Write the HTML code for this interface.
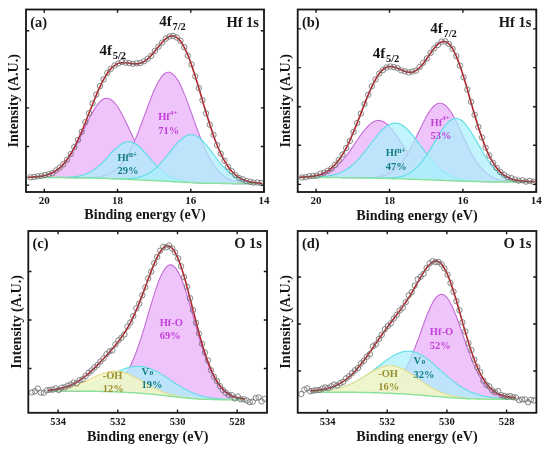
<!DOCTYPE html>
<html><head><meta charset="utf-8"><style>
html,body{margin:0;padding:0;background:#fff;}
svg{display:block;filter:blur(0.3px);}
</style></head><body>
<svg width="550" height="450" viewBox="0 0 550 450">
<rect width="550" height="450" fill="#fff"/>
<polygon points="27.8,177.3 29.2,177.2 30.6,177.2 32.0,177.1 33.3,177.0 34.7,176.9 36.1,176.8 37.5,176.7 38.9,176.5 40.3,176.3 41.7,176.1 43.1,175.8 44.4,175.5 45.8,175.2 47.2,174.8 48.6,174.3 50.0,173.8 51.4,173.2 52.8,172.5 54.2,171.8 55.5,171.0 56.9,170.0 58.3,169.0 59.7,167.9 61.1,166.6 62.5,165.3 63.9,163.8 65.2,162.2 66.6,160.4 68.0,158.5 69.4,156.5 70.8,154.4 72.2,152.2 73.6,149.8 75.0,147.3 76.3,144.7 77.7,142.1 79.1,139.3 80.5,136.5 81.9,133.6 83.3,130.7 84.7,127.8 86.1,124.9 87.4,122.1 88.8,119.3 90.2,116.5 91.6,113.9 93.0,111.4 94.4,109.1 95.8,107.0 97.1,105.0 98.5,103.3 99.9,101.8 101.3,100.5 102.7,99.5 104.1,98.8 105.5,98.4 106.9,98.3 108.2,98.5 109.6,98.9 111.0,99.7 112.4,100.7 113.8,102.0 115.2,103.5 116.6,105.3 118.0,107.3 119.3,109.5 120.7,111.9 122.1,114.5 123.5,117.2 124.9,120.0 126.3,122.9 127.7,125.8 129.0,128.8 130.4,131.8 131.8,134.8 133.2,137.7 134.6,140.6 136.0,143.5 137.4,146.3 138.8,149.0 140.1,151.5 141.5,154.0 142.9,156.4 144.3,158.6 145.7,160.7 147.1,162.7 148.5,164.5 149.9,166.3 151.2,167.8 152.6,169.3 154.0,170.7 155.4,171.9 156.8,173.0 158.2,174.1 159.6,175.0 161.0,175.8 162.3,176.6 163.7,177.3 165.1,177.9 166.5,178.4 167.9,178.9 169.3,179.4 170.7,179.8 172.0,180.1 173.4,180.4 174.8,180.7 176.2,180.9 177.6,181.2 179.0,181.4 180.4,181.5 181.8,181.7 183.1,181.9 184.5,182.0 185.9,182.1 187.3,182.2 188.7,182.3 190.1,182.4 191.5,182.5 192.9,182.6 194.2,182.7 195.6,182.7 197.0,182.8 198.4,182.9 199.8,182.9 201.2,183.0 202.6,183.0 203.9,183.1 205.3,183.1 206.7,183.2 208.1,183.2 209.5,183.3 210.9,183.3 212.3,183.3 213.7,183.3 215.0,183.4 216.4,183.4 217.8,183.4 219.2,183.4 220.6,183.5 222.0,183.5 223.4,183.5 224.8,183.5 226.1,183.5 227.5,183.5 228.9,183.5 230.3,183.5 231.7,183.5 233.1,183.6 234.5,183.6 235.8,183.6 237.2,183.6 238.6,183.6 240.0,183.6 241.4,183.6 242.8,183.6 244.2,183.6 245.6,183.6 246.9,183.6 248.3,183.6 249.7,183.6 251.1,183.6 252.5,183.6 253.9,183.6 255.3,183.6 256.7,183.6 258.0,183.6 259.4,183.6 260.8,183.6 262.2,183.6 262.2,183.6 260.8,183.6 259.4,183.6 258.0,183.6 256.7,183.6 255.3,183.6 253.9,183.6 252.5,183.6 251.1,183.6 249.7,183.6 248.3,183.6 246.9,183.6 245.6,183.6 244.2,183.6 242.8,183.6 241.4,183.6 240.0,183.6 238.6,183.6 237.2,183.6 235.8,183.6 234.5,183.6 233.1,183.6 231.7,183.6 230.3,183.5 228.9,183.5 227.5,183.5 226.1,183.5 224.8,183.5 223.4,183.5 222.0,183.5 220.6,183.5 219.2,183.4 217.8,183.4 216.4,183.4 215.0,183.4 213.7,183.4 212.3,183.3 210.9,183.3 209.5,183.3 208.1,183.2 206.7,183.2 205.3,183.1 203.9,183.1 202.6,183.1 201.2,183.0 199.8,183.0 198.4,182.9 197.0,182.9 195.6,182.8 194.2,182.7 192.9,182.7 191.5,182.6 190.1,182.6 188.7,182.5 187.3,182.4 185.9,182.3 184.5,182.3 183.1,182.2 181.8,182.1 180.4,182.0 179.0,182.0 177.6,181.9 176.2,181.8 174.8,181.7 173.4,181.7 172.0,181.6 170.7,181.5 169.3,181.4 167.9,181.3 166.5,181.3 165.1,181.2 163.7,181.1 162.3,181.0 161.0,181.0 159.6,180.9 158.2,180.8 156.8,180.7 155.4,180.7 154.0,180.6 152.6,180.5 151.2,180.5 149.9,180.4 148.5,180.3 147.1,180.3 145.7,180.2 144.3,180.1 142.9,180.1 141.5,180.0 140.1,180.0 138.8,179.9 137.4,179.8 136.0,179.8 134.6,179.7 133.2,179.6 131.8,179.6 130.4,179.5 129.0,179.5 127.7,179.4 126.3,179.3 124.9,179.3 123.5,179.2 122.1,179.1 120.7,179.1 119.3,179.0 118.0,179.0 116.6,178.9 115.2,178.8 113.8,178.8 112.4,178.7 111.0,178.6 109.6,178.6 108.2,178.5 106.9,178.5 105.5,178.4 104.1,178.4 102.7,178.3 101.3,178.3 99.9,178.2 98.5,178.2 97.1,178.1 95.8,178.1 94.4,178.0 93.0,178.0 91.6,178.0 90.2,177.9 88.8,177.9 87.4,177.8 86.1,177.8 84.7,177.8 83.3,177.8 81.9,177.7 80.5,177.7 79.1,177.7 77.7,177.7 76.3,177.7 75.0,177.6 73.6,177.6 72.2,177.6 70.8,177.6 69.4,177.6 68.0,177.6 66.6,177.6 65.2,177.6 63.9,177.5 62.5,177.5 61.1,177.5 59.7,177.5 58.3,177.5 56.9,177.5 55.5,177.5 54.2,177.5 52.8,177.5 51.4,177.5 50.0,177.5 48.6,177.5 47.2,177.5 45.8,177.5 44.4,177.5 43.1,177.5 41.7,177.5 40.3,177.5 38.9,177.5 37.5,177.5 36.1,177.5 34.7,177.5 33.3,177.5 32.0,177.5 30.6,177.5 29.2,177.5 27.8,177.5" fill="#efc4fb"/>
<polyline points="27.8,177.3 29.2,177.2 30.6,177.2 32.0,177.1 33.3,177.0 34.7,176.9 36.1,176.8 37.5,176.7 38.9,176.5 40.3,176.3 41.7,176.1 43.1,175.8 44.4,175.5 45.8,175.2 47.2,174.8 48.6,174.3 50.0,173.8 51.4,173.2 52.8,172.5 54.2,171.8 55.5,171.0 56.9,170.0 58.3,169.0 59.7,167.9 61.1,166.6 62.5,165.3 63.9,163.8 65.2,162.2 66.6,160.4 68.0,158.5 69.4,156.5 70.8,154.4 72.2,152.2 73.6,149.8 75.0,147.3 76.3,144.7 77.7,142.1 79.1,139.3 80.5,136.5 81.9,133.6 83.3,130.7 84.7,127.8 86.1,124.9 87.4,122.1 88.8,119.3 90.2,116.5 91.6,113.9 93.0,111.4 94.4,109.1 95.8,107.0 97.1,105.0 98.5,103.3 99.9,101.8 101.3,100.5 102.7,99.5 104.1,98.8 105.5,98.4 106.9,98.3 108.2,98.5 109.6,98.9 111.0,99.7 112.4,100.7 113.8,102.0 115.2,103.5 116.6,105.3 118.0,107.3 119.3,109.5 120.7,111.9 122.1,114.5 123.5,117.2 124.9,120.0 126.3,122.9 127.7,125.8 129.0,128.8 130.4,131.8 131.8,134.8 133.2,137.7 134.6,140.6 136.0,143.5 137.4,146.3 138.8,149.0 140.1,151.5 141.5,154.0 142.9,156.4 144.3,158.6 145.7,160.7 147.1,162.7 148.5,164.5 149.9,166.3 151.2,167.8 152.6,169.3 154.0,170.7 155.4,171.9 156.8,173.0 158.2,174.1 159.6,175.0 161.0,175.8 162.3,176.6 163.7,177.3 165.1,177.9 166.5,178.4 167.9,178.9 169.3,179.4 170.7,179.8 172.0,180.1 173.4,180.4 174.8,180.7 176.2,180.9 177.6,181.2 179.0,181.4 180.4,181.5 181.8,181.7 183.1,181.9 184.5,182.0 185.9,182.1 187.3,182.2 188.7,182.3 190.1,182.4 191.5,182.5 192.9,182.6 194.2,182.7 195.6,182.7 197.0,182.8 198.4,182.9 199.8,182.9 201.2,183.0 202.6,183.0 203.9,183.1 205.3,183.1 206.7,183.2 208.1,183.2 209.5,183.3 210.9,183.3 212.3,183.3 213.7,183.3 215.0,183.4 216.4,183.4 217.8,183.4 219.2,183.4 220.6,183.5 222.0,183.5 223.4,183.5 224.8,183.5 226.1,183.5 227.5,183.5 228.9,183.5 230.3,183.5 231.7,183.5 233.1,183.6 234.5,183.6 235.8,183.6 237.2,183.6 238.6,183.6 240.0,183.6 241.4,183.6 242.8,183.6 244.2,183.6 245.6,183.6 246.9,183.6 248.3,183.6 249.7,183.6 251.1,183.6 252.5,183.6 253.9,183.6 255.3,183.6 256.7,183.6 258.0,183.6 259.4,183.6 260.8,183.6 262.2,183.6" fill="none" stroke="#c46cd8" stroke-width="1.1"/>
<polygon points="27.8,177.5 29.2,177.5 30.6,177.5 32.0,177.5 33.3,177.5 34.7,177.5 36.1,177.5 37.5,177.5 38.9,177.5 40.3,177.5 41.7,177.5 43.1,177.5 44.4,177.5 45.8,177.5 47.2,177.5 48.6,177.5 50.0,177.5 51.4,177.5 52.8,177.5 54.2,177.5 55.5,177.5 56.9,177.5 58.3,177.5 59.7,177.5 61.1,177.5 62.5,177.5 63.9,177.5 65.2,177.5 66.6,177.5 68.0,177.6 69.4,177.6 70.8,177.6 72.2,177.6 73.6,177.6 75.0,177.6 76.3,177.6 77.7,177.6 79.1,177.6 80.5,177.6 81.9,177.6 83.3,177.6 84.7,177.6 86.1,177.5 87.4,177.5 88.8,177.5 90.2,177.4 91.6,177.4 93.0,177.3 94.4,177.2 95.8,177.1 97.1,176.9 98.5,176.8 99.9,176.5 101.3,176.3 102.7,176.0 104.1,175.6 105.5,175.2 106.9,174.8 108.2,174.2 109.6,173.6 111.0,172.9 112.4,172.1 113.8,171.2 115.2,170.2 116.6,169.1 118.0,167.8 119.3,166.4 120.7,164.9 122.1,163.2 123.5,161.4 124.9,159.4 126.3,157.2 127.7,154.9 129.0,152.4 130.4,149.8 131.8,147.0 133.2,144.0 134.6,140.9 136.0,137.6 137.4,134.2 138.8,130.7 140.1,127.1 141.5,123.5 142.9,119.7 144.3,115.9 145.7,112.2 147.1,108.4 148.5,104.6 149.9,101.0 151.2,97.4 152.6,94.0 154.0,90.7 155.4,87.6 156.8,84.7 158.2,82.1 159.6,79.7 161.0,77.6 162.3,75.9 163.7,74.5 165.1,73.4 166.5,72.6 167.9,72.3 169.3,72.3 170.7,72.7 172.0,73.4 173.4,74.5 174.8,76.0 176.2,77.8 177.6,79.9 179.0,82.3 180.4,85.0 181.8,87.9 183.1,91.1 184.5,94.4 185.9,97.9 187.3,101.6 188.7,105.4 190.1,109.2 191.5,113.1 192.9,117.0 194.2,120.9 195.6,124.8 197.0,128.6 198.4,132.4 199.8,136.0 201.2,139.6 202.6,143.0 203.9,146.3 205.3,149.4 206.7,152.4 208.1,155.2 209.5,157.8 210.9,160.3 212.3,162.6 213.7,164.8 215.0,166.7 216.4,168.6 217.8,170.2 219.2,171.8 220.6,173.1 222.0,174.4 223.4,175.5 224.8,176.6 226.1,177.5 227.5,178.3 228.9,179.0 230.3,179.6 231.7,180.2 233.1,180.7 234.5,181.1 235.8,181.5 237.2,181.8 238.6,182.1 240.0,182.3 241.4,182.5 242.8,182.7 244.2,182.8 245.6,183.0 246.9,183.1 248.3,183.2 249.7,183.2 251.1,183.3 252.5,183.4 253.9,183.4 255.3,183.4 256.7,183.5 258.0,183.5 259.4,183.5 260.8,183.5 262.2,183.5 262.2,183.6 260.8,183.6 259.4,183.6 258.0,183.6 256.7,183.6 255.3,183.6 253.9,183.6 252.5,183.6 251.1,183.6 249.7,183.6 248.3,183.6 246.9,183.6 245.6,183.6 244.2,183.6 242.8,183.6 241.4,183.6 240.0,183.6 238.6,183.6 237.2,183.6 235.8,183.6 234.5,183.6 233.1,183.6 231.7,183.6 230.3,183.5 228.9,183.5 227.5,183.5 226.1,183.5 224.8,183.5 223.4,183.5 222.0,183.5 220.6,183.5 219.2,183.4 217.8,183.4 216.4,183.4 215.0,183.4 213.7,183.4 212.3,183.3 210.9,183.3 209.5,183.3 208.1,183.2 206.7,183.2 205.3,183.1 203.9,183.1 202.6,183.1 201.2,183.0 199.8,183.0 198.4,182.9 197.0,182.9 195.6,182.8 194.2,182.7 192.9,182.7 191.5,182.6 190.1,182.6 188.7,182.5 187.3,182.4 185.9,182.3 184.5,182.3 183.1,182.2 181.8,182.1 180.4,182.0 179.0,182.0 177.6,181.9 176.2,181.8 174.8,181.7 173.4,181.7 172.0,181.6 170.7,181.5 169.3,181.4 167.9,181.3 166.5,181.3 165.1,181.2 163.7,181.1 162.3,181.0 161.0,181.0 159.6,180.9 158.2,180.8 156.8,180.7 155.4,180.7 154.0,180.6 152.6,180.5 151.2,180.5 149.9,180.4 148.5,180.3 147.1,180.3 145.7,180.2 144.3,180.1 142.9,180.1 141.5,180.0 140.1,180.0 138.8,179.9 137.4,179.8 136.0,179.8 134.6,179.7 133.2,179.6 131.8,179.6 130.4,179.5 129.0,179.5 127.7,179.4 126.3,179.3 124.9,179.3 123.5,179.2 122.1,179.1 120.7,179.1 119.3,179.0 118.0,179.0 116.6,178.9 115.2,178.8 113.8,178.8 112.4,178.7 111.0,178.6 109.6,178.6 108.2,178.5 106.9,178.5 105.5,178.4 104.1,178.4 102.7,178.3 101.3,178.3 99.9,178.2 98.5,178.2 97.1,178.1 95.8,178.1 94.4,178.0 93.0,178.0 91.6,178.0 90.2,177.9 88.8,177.9 87.4,177.8 86.1,177.8 84.7,177.8 83.3,177.8 81.9,177.7 80.5,177.7 79.1,177.7 77.7,177.7 76.3,177.7 75.0,177.6 73.6,177.6 72.2,177.6 70.8,177.6 69.4,177.6 68.0,177.6 66.6,177.6 65.2,177.6 63.9,177.5 62.5,177.5 61.1,177.5 59.7,177.5 58.3,177.5 56.9,177.5 55.5,177.5 54.2,177.5 52.8,177.5 51.4,177.5 50.0,177.5 48.6,177.5 47.2,177.5 45.8,177.5 44.4,177.5 43.1,177.5 41.7,177.5 40.3,177.5 38.9,177.5 37.5,177.5 36.1,177.5 34.7,177.5 33.3,177.5 32.0,177.5 30.6,177.5 29.2,177.5 27.8,177.5" fill="#efc4fb"/>
<polyline points="27.8,177.5 29.2,177.5 30.6,177.5 32.0,177.5 33.3,177.5 34.7,177.5 36.1,177.5 37.5,177.5 38.9,177.5 40.3,177.5 41.7,177.5 43.1,177.5 44.4,177.5 45.8,177.5 47.2,177.5 48.6,177.5 50.0,177.5 51.4,177.5 52.8,177.5 54.2,177.5 55.5,177.5 56.9,177.5 58.3,177.5 59.7,177.5 61.1,177.5 62.5,177.5 63.9,177.5 65.2,177.5 66.6,177.5 68.0,177.6 69.4,177.6 70.8,177.6 72.2,177.6 73.6,177.6 75.0,177.6 76.3,177.6 77.7,177.6 79.1,177.6 80.5,177.6 81.9,177.6 83.3,177.6 84.7,177.6 86.1,177.5 87.4,177.5 88.8,177.5 90.2,177.4 91.6,177.4 93.0,177.3 94.4,177.2 95.8,177.1 97.1,176.9 98.5,176.8 99.9,176.5 101.3,176.3 102.7,176.0 104.1,175.6 105.5,175.2 106.9,174.8 108.2,174.2 109.6,173.6 111.0,172.9 112.4,172.1 113.8,171.2 115.2,170.2 116.6,169.1 118.0,167.8 119.3,166.4 120.7,164.9 122.1,163.2 123.5,161.4 124.9,159.4 126.3,157.2 127.7,154.9 129.0,152.4 130.4,149.8 131.8,147.0 133.2,144.0 134.6,140.9 136.0,137.6 137.4,134.2 138.8,130.7 140.1,127.1 141.5,123.5 142.9,119.7 144.3,115.9 145.7,112.2 147.1,108.4 148.5,104.6 149.9,101.0 151.2,97.4 152.6,94.0 154.0,90.7 155.4,87.6 156.8,84.7 158.2,82.1 159.6,79.7 161.0,77.6 162.3,75.9 163.7,74.5 165.1,73.4 166.5,72.6 167.9,72.3 169.3,72.3 170.7,72.7 172.0,73.4 173.4,74.5 174.8,76.0 176.2,77.8 177.6,79.9 179.0,82.3 180.4,85.0 181.8,87.9 183.1,91.1 184.5,94.4 185.9,97.9 187.3,101.6 188.7,105.4 190.1,109.2 191.5,113.1 192.9,117.0 194.2,120.9 195.6,124.8 197.0,128.6 198.4,132.4 199.8,136.0 201.2,139.6 202.6,143.0 203.9,146.3 205.3,149.4 206.7,152.4 208.1,155.2 209.5,157.8 210.9,160.3 212.3,162.6 213.7,164.8 215.0,166.7 216.4,168.6 217.8,170.2 219.2,171.8 220.6,173.1 222.0,174.4 223.4,175.5 224.8,176.6 226.1,177.5 227.5,178.3 228.9,179.0 230.3,179.6 231.7,180.2 233.1,180.7 234.5,181.1 235.8,181.5 237.2,181.8 238.6,182.1 240.0,182.3 241.4,182.5 242.8,182.7 244.2,182.8 245.6,183.0 246.9,183.1 248.3,183.2 249.7,183.2 251.1,183.3 252.5,183.4 253.9,183.4 255.3,183.4 256.7,183.5 258.0,183.5 259.4,183.5 260.8,183.5 262.2,183.5" fill="none" stroke="#c46cd8" stroke-width="1.1"/>
<polygon points="27.8,177.5 29.2,177.5 30.6,177.5 32.0,177.5 33.3,177.5 34.7,177.5 36.1,177.5 37.5,177.5 38.9,177.5 40.3,177.5 41.7,177.5 43.1,177.5 44.4,177.5 45.8,177.5 47.2,177.5 48.6,177.5 50.0,177.5 51.4,177.5 52.8,177.5 54.2,177.5 55.5,177.5 56.9,177.5 58.3,177.4 59.7,177.4 61.1,177.4 62.5,177.4 63.9,177.3 65.2,177.3 66.6,177.3 68.0,177.2 69.4,177.1 70.8,177.0 72.2,176.9 73.6,176.8 75.0,176.6 76.3,176.4 77.7,176.2 79.1,176.0 80.5,175.7 81.9,175.3 83.3,174.9 84.7,174.5 86.1,174.0 87.4,173.4 88.8,172.8 90.2,172.1 91.6,171.3 93.0,170.4 94.4,169.5 95.8,168.5 97.1,167.4 98.5,166.2 99.9,165.0 101.3,163.7 102.7,162.3 104.1,160.9 105.5,159.5 106.9,158.0 108.2,156.5 109.6,154.9 111.0,153.4 112.4,151.9 113.8,150.5 115.2,149.1 116.6,147.8 118.0,146.6 119.3,145.5 120.7,144.5 122.1,143.6 123.5,142.9 124.9,142.4 126.3,142.0 127.7,141.8 129.0,141.7 130.4,141.9 131.8,142.2 133.2,142.7 134.6,143.4 136.0,144.2 137.4,145.2 138.8,146.3 140.1,147.5 141.5,148.9 142.9,150.3 144.3,151.8 145.7,153.4 147.1,155.0 148.5,156.6 149.9,158.3 151.2,159.9 152.6,161.5 154.0,163.1 155.4,164.6 156.8,166.1 158.2,167.5 159.6,168.9 161.0,170.2 162.3,171.4 163.7,172.5 165.1,173.6 166.5,174.6 167.9,175.5 169.3,176.3 170.7,177.0 172.0,177.7 173.4,178.3 174.8,178.9 176.2,179.4 177.6,179.8 179.0,180.2 180.4,180.6 181.8,180.9 183.1,181.2 184.5,181.4 185.9,181.6 187.3,181.8 188.7,182.0 190.1,182.2 191.5,182.3 192.9,182.4 194.2,182.5 195.6,182.6 197.0,182.7 198.4,182.8 199.8,182.9 201.2,183.0 202.6,183.0 203.9,183.1 205.3,183.1 206.7,183.2 208.1,183.2 209.5,183.2 210.9,183.3 212.3,183.3 213.7,183.3 215.0,183.4 216.4,183.4 217.8,183.4 219.2,183.4 220.6,183.5 222.0,183.5 223.4,183.5 224.8,183.5 226.1,183.5 227.5,183.5 228.9,183.5 230.3,183.5 231.7,183.6 233.1,183.6 234.5,183.6 235.8,183.6 237.2,183.6 238.6,183.6 240.0,183.6 241.4,183.6 242.8,183.6 244.2,183.6 245.6,183.6 246.9,183.6 248.3,183.6 249.7,183.6 251.1,183.6 252.5,183.6 253.9,183.6 255.3,183.6 256.7,183.6 258.0,183.6 259.4,183.6 260.8,183.6 262.2,183.6 262.2,183.6 260.8,183.6 259.4,183.6 258.0,183.6 256.7,183.6 255.3,183.6 253.9,183.6 252.5,183.6 251.1,183.6 249.7,183.6 248.3,183.6 246.9,183.6 245.6,183.6 244.2,183.6 242.8,183.6 241.4,183.6 240.0,183.6 238.6,183.6 237.2,183.6 235.8,183.6 234.5,183.6 233.1,183.6 231.7,183.6 230.3,183.5 228.9,183.5 227.5,183.5 226.1,183.5 224.8,183.5 223.4,183.5 222.0,183.5 220.6,183.5 219.2,183.4 217.8,183.4 216.4,183.4 215.0,183.4 213.7,183.4 212.3,183.3 210.9,183.3 209.5,183.3 208.1,183.2 206.7,183.2 205.3,183.1 203.9,183.1 202.6,183.1 201.2,183.0 199.8,183.0 198.4,182.9 197.0,182.9 195.6,182.8 194.2,182.7 192.9,182.7 191.5,182.6 190.1,182.6 188.7,182.5 187.3,182.4 185.9,182.3 184.5,182.3 183.1,182.2 181.8,182.1 180.4,182.0 179.0,182.0 177.6,181.9 176.2,181.8 174.8,181.7 173.4,181.7 172.0,181.6 170.7,181.5 169.3,181.4 167.9,181.3 166.5,181.3 165.1,181.2 163.7,181.1 162.3,181.0 161.0,181.0 159.6,180.9 158.2,180.8 156.8,180.7 155.4,180.7 154.0,180.6 152.6,180.5 151.2,180.5 149.9,180.4 148.5,180.3 147.1,180.3 145.7,180.2 144.3,180.1 142.9,180.1 141.5,180.0 140.1,180.0 138.8,179.9 137.4,179.8 136.0,179.8 134.6,179.7 133.2,179.6 131.8,179.6 130.4,179.5 129.0,179.5 127.7,179.4 126.3,179.3 124.9,179.3 123.5,179.2 122.1,179.1 120.7,179.1 119.3,179.0 118.0,179.0 116.6,178.9 115.2,178.8 113.8,178.8 112.4,178.7 111.0,178.6 109.6,178.6 108.2,178.5 106.9,178.5 105.5,178.4 104.1,178.4 102.7,178.3 101.3,178.3 99.9,178.2 98.5,178.2 97.1,178.1 95.8,178.1 94.4,178.0 93.0,178.0 91.6,178.0 90.2,177.9 88.8,177.9 87.4,177.8 86.1,177.8 84.7,177.8 83.3,177.8 81.9,177.7 80.5,177.7 79.1,177.7 77.7,177.7 76.3,177.7 75.0,177.6 73.6,177.6 72.2,177.6 70.8,177.6 69.4,177.6 68.0,177.6 66.6,177.6 65.2,177.6 63.9,177.5 62.5,177.5 61.1,177.5 59.7,177.5 58.3,177.5 56.9,177.5 55.5,177.5 54.2,177.5 52.8,177.5 51.4,177.5 50.0,177.5 48.6,177.5 47.2,177.5 45.8,177.5 44.4,177.5 43.1,177.5 41.7,177.5 40.3,177.5 38.9,177.5 37.5,177.5 36.1,177.5 34.7,177.5 33.3,177.5 32.0,177.5 30.6,177.5 29.2,177.5 27.8,177.5" fill="rgba(170,240,252,0.72)"/>
<polyline points="27.8,177.5 29.2,177.5 30.6,177.5 32.0,177.5 33.3,177.5 34.7,177.5 36.1,177.5 37.5,177.5 38.9,177.5 40.3,177.5 41.7,177.5 43.1,177.5 44.4,177.5 45.8,177.5 47.2,177.5 48.6,177.5 50.0,177.5 51.4,177.5 52.8,177.5 54.2,177.5 55.5,177.5 56.9,177.5 58.3,177.4 59.7,177.4 61.1,177.4 62.5,177.4 63.9,177.3 65.2,177.3 66.6,177.3 68.0,177.2 69.4,177.1 70.8,177.0 72.2,176.9 73.6,176.8 75.0,176.6 76.3,176.4 77.7,176.2 79.1,176.0 80.5,175.7 81.9,175.3 83.3,174.9 84.7,174.5 86.1,174.0 87.4,173.4 88.8,172.8 90.2,172.1 91.6,171.3 93.0,170.4 94.4,169.5 95.8,168.5 97.1,167.4 98.5,166.2 99.9,165.0 101.3,163.7 102.7,162.3 104.1,160.9 105.5,159.5 106.9,158.0 108.2,156.5 109.6,154.9 111.0,153.4 112.4,151.9 113.8,150.5 115.2,149.1 116.6,147.8 118.0,146.6 119.3,145.5 120.7,144.5 122.1,143.6 123.5,142.9 124.9,142.4 126.3,142.0 127.7,141.8 129.0,141.7 130.4,141.9 131.8,142.2 133.2,142.7 134.6,143.4 136.0,144.2 137.4,145.2 138.8,146.3 140.1,147.5 141.5,148.9 142.9,150.3 144.3,151.8 145.7,153.4 147.1,155.0 148.5,156.6 149.9,158.3 151.2,159.9 152.6,161.5 154.0,163.1 155.4,164.6 156.8,166.1 158.2,167.5 159.6,168.9 161.0,170.2 162.3,171.4 163.7,172.5 165.1,173.6 166.5,174.6 167.9,175.5 169.3,176.3 170.7,177.0 172.0,177.7 173.4,178.3 174.8,178.9 176.2,179.4 177.6,179.8 179.0,180.2 180.4,180.6 181.8,180.9 183.1,181.2 184.5,181.4 185.9,181.6 187.3,181.8 188.7,182.0 190.1,182.2 191.5,182.3 192.9,182.4 194.2,182.5 195.6,182.6 197.0,182.7 198.4,182.8 199.8,182.9 201.2,183.0 202.6,183.0 203.9,183.1 205.3,183.1 206.7,183.2 208.1,183.2 209.5,183.2 210.9,183.3 212.3,183.3 213.7,183.3 215.0,183.4 216.4,183.4 217.8,183.4 219.2,183.4 220.6,183.5 222.0,183.5 223.4,183.5 224.8,183.5 226.1,183.5 227.5,183.5 228.9,183.5 230.3,183.5 231.7,183.6 233.1,183.6 234.5,183.6 235.8,183.6 237.2,183.6 238.6,183.6 240.0,183.6 241.4,183.6 242.8,183.6 244.2,183.6 245.6,183.6 246.9,183.6 248.3,183.6 249.7,183.6 251.1,183.6 252.5,183.6 253.9,183.6 255.3,183.6 256.7,183.6 258.0,183.6 259.4,183.6 260.8,183.6 262.2,183.6" fill="none" stroke="#5adde6" stroke-width="1.1"/>
<polygon points="27.8,177.5 29.2,177.5 30.6,177.5 32.0,177.5 33.3,177.5 34.7,177.5 36.1,177.5 37.5,177.5 38.9,177.5 40.3,177.5 41.7,177.5 43.1,177.5 44.4,177.5 45.8,177.5 47.2,177.5 48.6,177.5 50.0,177.5 51.4,177.5 52.8,177.5 54.2,177.5 55.5,177.5 56.9,177.5 58.3,177.5 59.7,177.5 61.1,177.5 62.5,177.5 63.9,177.5 65.2,177.6 66.6,177.6 68.0,177.6 69.4,177.6 70.8,177.6 72.2,177.6 73.6,177.6 75.0,177.6 76.3,177.7 77.7,177.7 79.1,177.7 80.5,177.7 81.9,177.7 83.3,177.8 84.7,177.8 86.1,177.8 87.4,177.8 88.8,177.9 90.2,177.9 91.6,177.9 93.0,178.0 94.4,178.0 95.8,178.1 97.1,178.1 98.5,178.2 99.9,178.2 101.3,178.2 102.7,178.3 104.1,178.3 105.5,178.4 106.9,178.4 108.2,178.5 109.6,178.5 111.0,178.6 112.4,178.6 113.8,178.7 115.2,178.7 116.6,178.7 118.0,178.8 119.3,178.8 120.7,178.8 122.1,178.8 123.5,178.8 124.9,178.8 126.3,178.8 127.7,178.7 129.0,178.6 130.4,178.5 131.8,178.4 133.2,178.3 134.6,178.1 136.0,177.8 137.4,177.6 138.8,177.3 140.1,176.9 141.5,176.5 142.9,176.0 144.3,175.5 145.7,174.9 147.1,174.2 148.5,173.4 149.9,172.6 151.2,171.7 152.6,170.7 154.0,169.6 155.4,168.4 156.8,167.2 158.2,165.8 159.6,164.4 161.0,163.0 162.3,161.4 163.7,159.8 165.1,158.1 166.5,156.4 167.9,154.7 169.3,152.9 170.7,151.2 172.0,149.4 173.4,147.7 174.8,146.0 176.2,144.4 177.6,142.9 179.0,141.4 180.4,140.1 181.8,138.9 183.1,137.8 184.5,136.8 185.9,136.1 187.3,135.5 188.7,135.0 190.1,134.8 191.5,134.8 192.9,134.9 194.2,135.2 195.6,135.7 197.0,136.4 198.4,137.3 199.8,138.3 201.2,139.5 202.6,140.8 203.9,142.3 205.3,143.8 206.7,145.5 208.1,147.2 209.5,148.9 210.9,150.8 212.3,152.6 213.7,154.5 215.0,156.3 216.4,158.2 217.8,160.0 219.2,161.8 220.6,163.5 222.0,165.1 223.4,166.7 224.8,168.2 226.1,169.7 227.5,171.0 228.9,172.3 230.3,173.5 231.7,174.5 233.1,175.5 234.5,176.5 235.8,177.3 237.2,178.1 238.6,178.8 240.0,179.4 241.4,179.9 242.8,180.4 244.2,180.9 245.6,181.3 246.9,181.6 248.3,181.9 249.7,182.2 251.1,182.4 252.5,182.6 253.9,182.7 255.3,182.9 256.7,183.0 258.0,183.1 259.4,183.2 260.8,183.3 262.2,183.3 262.2,183.6 260.8,183.6 259.4,183.6 258.0,183.6 256.7,183.6 255.3,183.6 253.9,183.6 252.5,183.6 251.1,183.6 249.7,183.6 248.3,183.6 246.9,183.6 245.6,183.6 244.2,183.6 242.8,183.6 241.4,183.6 240.0,183.6 238.6,183.6 237.2,183.6 235.8,183.6 234.5,183.6 233.1,183.6 231.7,183.6 230.3,183.5 228.9,183.5 227.5,183.5 226.1,183.5 224.8,183.5 223.4,183.5 222.0,183.5 220.6,183.5 219.2,183.4 217.8,183.4 216.4,183.4 215.0,183.4 213.7,183.4 212.3,183.3 210.9,183.3 209.5,183.3 208.1,183.2 206.7,183.2 205.3,183.1 203.9,183.1 202.6,183.1 201.2,183.0 199.8,183.0 198.4,182.9 197.0,182.9 195.6,182.8 194.2,182.7 192.9,182.7 191.5,182.6 190.1,182.6 188.7,182.5 187.3,182.4 185.9,182.3 184.5,182.3 183.1,182.2 181.8,182.1 180.4,182.0 179.0,182.0 177.6,181.9 176.2,181.8 174.8,181.7 173.4,181.7 172.0,181.6 170.7,181.5 169.3,181.4 167.9,181.3 166.5,181.3 165.1,181.2 163.7,181.1 162.3,181.0 161.0,181.0 159.6,180.9 158.2,180.8 156.8,180.7 155.4,180.7 154.0,180.6 152.6,180.5 151.2,180.5 149.9,180.4 148.5,180.3 147.1,180.3 145.7,180.2 144.3,180.1 142.9,180.1 141.5,180.0 140.1,180.0 138.8,179.9 137.4,179.8 136.0,179.8 134.6,179.7 133.2,179.6 131.8,179.6 130.4,179.5 129.0,179.5 127.7,179.4 126.3,179.3 124.9,179.3 123.5,179.2 122.1,179.1 120.7,179.1 119.3,179.0 118.0,179.0 116.6,178.9 115.2,178.8 113.8,178.8 112.4,178.7 111.0,178.6 109.6,178.6 108.2,178.5 106.9,178.5 105.5,178.4 104.1,178.4 102.7,178.3 101.3,178.3 99.9,178.2 98.5,178.2 97.1,178.1 95.8,178.1 94.4,178.0 93.0,178.0 91.6,178.0 90.2,177.9 88.8,177.9 87.4,177.8 86.1,177.8 84.7,177.8 83.3,177.8 81.9,177.7 80.5,177.7 79.1,177.7 77.7,177.7 76.3,177.7 75.0,177.6 73.6,177.6 72.2,177.6 70.8,177.6 69.4,177.6 68.0,177.6 66.6,177.6 65.2,177.6 63.9,177.5 62.5,177.5 61.1,177.5 59.7,177.5 58.3,177.5 56.9,177.5 55.5,177.5 54.2,177.5 52.8,177.5 51.4,177.5 50.0,177.5 48.6,177.5 47.2,177.5 45.8,177.5 44.4,177.5 43.1,177.5 41.7,177.5 40.3,177.5 38.9,177.5 37.5,177.5 36.1,177.5 34.7,177.5 33.3,177.5 32.0,177.5 30.6,177.5 29.2,177.5 27.8,177.5" fill="rgba(170,240,252,0.72)"/>
<polyline points="27.8,177.5 29.2,177.5 30.6,177.5 32.0,177.5 33.3,177.5 34.7,177.5 36.1,177.5 37.5,177.5 38.9,177.5 40.3,177.5 41.7,177.5 43.1,177.5 44.4,177.5 45.8,177.5 47.2,177.5 48.6,177.5 50.0,177.5 51.4,177.5 52.8,177.5 54.2,177.5 55.5,177.5 56.9,177.5 58.3,177.5 59.7,177.5 61.1,177.5 62.5,177.5 63.9,177.5 65.2,177.6 66.6,177.6 68.0,177.6 69.4,177.6 70.8,177.6 72.2,177.6 73.6,177.6 75.0,177.6 76.3,177.7 77.7,177.7 79.1,177.7 80.5,177.7 81.9,177.7 83.3,177.8 84.7,177.8 86.1,177.8 87.4,177.8 88.8,177.9 90.2,177.9 91.6,177.9 93.0,178.0 94.4,178.0 95.8,178.1 97.1,178.1 98.5,178.2 99.9,178.2 101.3,178.2 102.7,178.3 104.1,178.3 105.5,178.4 106.9,178.4 108.2,178.5 109.6,178.5 111.0,178.6 112.4,178.6 113.8,178.7 115.2,178.7 116.6,178.7 118.0,178.8 119.3,178.8 120.7,178.8 122.1,178.8 123.5,178.8 124.9,178.8 126.3,178.8 127.7,178.7 129.0,178.6 130.4,178.5 131.8,178.4 133.2,178.3 134.6,178.1 136.0,177.8 137.4,177.6 138.8,177.3 140.1,176.9 141.5,176.5 142.9,176.0 144.3,175.5 145.7,174.9 147.1,174.2 148.5,173.4 149.9,172.6 151.2,171.7 152.6,170.7 154.0,169.6 155.4,168.4 156.8,167.2 158.2,165.8 159.6,164.4 161.0,163.0 162.3,161.4 163.7,159.8 165.1,158.1 166.5,156.4 167.9,154.7 169.3,152.9 170.7,151.2 172.0,149.4 173.4,147.7 174.8,146.0 176.2,144.4 177.6,142.9 179.0,141.4 180.4,140.1 181.8,138.9 183.1,137.8 184.5,136.8 185.9,136.1 187.3,135.5 188.7,135.0 190.1,134.8 191.5,134.8 192.9,134.9 194.2,135.2 195.6,135.7 197.0,136.4 198.4,137.3 199.8,138.3 201.2,139.5 202.6,140.8 203.9,142.3 205.3,143.8 206.7,145.5 208.1,147.2 209.5,148.9 210.9,150.8 212.3,152.6 213.7,154.5 215.0,156.3 216.4,158.2 217.8,160.0 219.2,161.8 220.6,163.5 222.0,165.1 223.4,166.7 224.8,168.2 226.1,169.7 227.5,171.0 228.9,172.3 230.3,173.5 231.7,174.5 233.1,175.5 234.5,176.5 235.8,177.3 237.2,178.1 238.6,178.8 240.0,179.4 241.4,179.9 242.8,180.4 244.2,180.9 245.6,181.3 246.9,181.6 248.3,181.9 249.7,182.2 251.1,182.4 252.5,182.6 253.9,182.7 255.3,182.9 256.7,183.0 258.0,183.1 259.4,183.2 260.8,183.3 262.2,183.3" fill="none" stroke="#5adde6" stroke-width="1.1"/>
<polyline points="27.8,177.5 29.2,177.5 30.6,177.5 32.0,177.5 33.3,177.5 34.7,177.5 36.1,177.5 37.5,177.5 38.9,177.5 40.3,177.5 41.7,177.5 43.1,177.5 44.4,177.5 45.8,177.5 47.2,177.5 48.6,177.5 50.0,177.5 51.4,177.5 52.8,177.5 54.2,177.5 55.5,177.5 56.9,177.5 58.3,177.5 59.7,177.5 61.1,177.5 62.5,177.5 63.9,177.5 65.2,177.6 66.6,177.6 68.0,177.6 69.4,177.6 70.8,177.6 72.2,177.6 73.6,177.6 75.0,177.6 76.3,177.7 77.7,177.7 79.1,177.7 80.5,177.7 81.9,177.7 83.3,177.8 84.7,177.8 86.1,177.8 87.4,177.8 88.8,177.9 90.2,177.9 91.6,178.0 93.0,178.0 94.4,178.0 95.8,178.1 97.1,178.1 98.5,178.2 99.9,178.2 101.3,178.3 102.7,178.3 104.1,178.4 105.5,178.4 106.9,178.5 108.2,178.5 109.6,178.6 111.0,178.6 112.4,178.7 113.8,178.8 115.2,178.8 116.6,178.9 118.0,179.0 119.3,179.0 120.7,179.1 122.1,179.1 123.5,179.2 124.9,179.3 126.3,179.3 127.7,179.4 129.0,179.5 130.4,179.5 131.8,179.6 133.2,179.6 134.6,179.7 136.0,179.8 137.4,179.8 138.8,179.9 140.1,180.0 141.5,180.0 142.9,180.1 144.3,180.1 145.7,180.2 147.1,180.3 148.5,180.3 149.9,180.4 151.2,180.5 152.6,180.5 154.0,180.6 155.4,180.7 156.8,180.7 158.2,180.8 159.6,180.9 161.0,181.0 162.3,181.0 163.7,181.1 165.1,181.2 166.5,181.3 167.9,181.3 169.3,181.4 170.7,181.5 172.0,181.6 173.4,181.7 174.8,181.7 176.2,181.8 177.6,181.9 179.0,182.0 180.4,182.0 181.8,182.1 183.1,182.2 184.5,182.3 185.9,182.3 187.3,182.4 188.7,182.5 190.1,182.6 191.5,182.6 192.9,182.7 194.2,182.7 195.6,182.8 197.0,182.9 198.4,182.9 199.8,183.0 201.2,183.0 202.6,183.1 203.9,183.1 205.3,183.1 206.7,183.2 208.1,183.2 209.5,183.3 210.9,183.3 212.3,183.3 213.7,183.4 215.0,183.4 216.4,183.4 217.8,183.4 219.2,183.4 220.6,183.5 222.0,183.5 223.4,183.5 224.8,183.5 226.1,183.5 227.5,183.5 228.9,183.5 230.3,183.5 231.7,183.6 233.1,183.6 234.5,183.6 235.8,183.6 237.2,183.6 238.6,183.6 240.0,183.6 241.4,183.6 242.8,183.6 244.2,183.6 245.6,183.6 246.9,183.6 248.3,183.6 249.7,183.6 251.1,183.6 252.5,183.6 253.9,183.6 255.3,183.6 256.7,183.6 258.0,183.6 259.4,183.6 260.8,183.6 262.2,183.6" fill="none" stroke="#88e39a" stroke-width="1.4"/>
<polyline points="27.8,177.3 29.2,177.2 30.6,177.2 32.0,177.1 33.3,177.0 34.7,176.9 36.1,176.8 37.5,176.6 38.9,176.5 40.3,176.3 41.7,176.1 43.1,175.8 44.4,175.5 45.8,175.2 47.2,174.8 48.6,174.3 50.0,173.8 51.4,173.2 52.8,172.5 54.2,171.8 55.5,170.9 56.9,170.0 58.3,168.9 59.7,167.8 61.1,166.5 62.5,165.1 63.9,163.6 65.2,161.9 66.6,160.1 68.0,158.1 69.4,156.0 70.8,153.8 72.2,151.4 73.6,148.9 75.0,146.2 76.3,143.4 77.7,140.5 79.1,137.5 80.5,134.3 81.9,131.0 83.3,127.7 84.7,124.3 86.1,120.8 87.4,117.3 88.8,113.7 90.2,110.2 91.6,106.7 93.0,103.2 94.4,99.7 95.8,96.4 97.1,93.1 98.5,89.9 99.9,86.9 101.3,84.0 102.7,81.2 104.1,78.6 105.5,76.3 106.9,74.0 108.2,72.0 109.6,70.2 111.0,68.6 112.4,67.3 113.8,66.1 115.2,65.1 116.6,64.3 118.0,63.6 119.3,63.2 120.7,62.9 122.1,62.7 123.5,62.7 124.9,62.7 126.3,62.8 127.7,63.0 129.0,63.2 130.4,63.4 131.8,63.6 133.2,63.8 134.6,63.9 136.0,63.9 137.4,63.8 138.8,63.6 140.1,63.2 141.5,62.8 142.9,62.2 144.3,61.4 145.7,60.5 147.1,59.4 148.5,58.2 149.9,56.9 151.2,55.4 152.6,53.9 154.0,52.2 155.4,50.5 156.8,48.8 158.2,47.1 159.6,45.4 161.0,43.7 162.3,42.2 163.7,40.7 165.1,39.4 166.5,38.3 167.9,37.3 169.3,36.6 170.7,36.1 172.0,35.9 173.4,36.0 174.8,36.4 176.2,37.1 177.6,38.1 179.0,39.4 180.4,41.0 181.8,43.0 183.1,45.3 184.5,47.8 185.9,50.7 187.3,53.9 188.7,57.3 190.1,61.0 191.5,64.8 192.9,68.9 194.2,73.1 195.6,77.5 197.0,82.0 198.4,86.6 199.8,91.3 201.2,96.0 202.6,100.7 203.9,105.4 205.3,110.0 206.7,114.6 208.1,119.1 209.5,123.5 210.9,127.8 212.3,131.9 213.7,135.9 215.0,139.7 216.4,143.3 217.8,146.8 219.2,150.1 220.6,153.2 222.0,156.1 223.4,158.8 224.8,161.3 226.1,163.6 227.5,165.7 228.9,167.7 230.3,169.5 231.7,171.2 233.1,172.7 234.5,174.0 235.8,175.2 237.2,176.3 238.6,177.3 240.0,178.1 241.4,178.9 242.8,179.5 244.2,180.1 245.6,180.6 246.9,181.1 248.3,181.5 249.7,181.8 251.1,182.1 252.5,182.3 253.9,182.5 255.3,182.7 256.7,182.9 258.0,183.0 259.4,183.1 260.8,183.2 262.2,183.3" fill="none" stroke="#b3222a" stroke-width="1.6"/>
<g fill="none" stroke="#707070" stroke-width="0.85"><circle cx="30.4" cy="177.3" r="2.7"/><circle cx="34.1" cy="176.9" r="2.7"/><circle cx="37.7" cy="176.3" r="2.7"/><circle cx="41.4" cy="176.0" r="2.7"/><circle cx="45.0" cy="175.0" r="2.7"/><circle cx="48.7" cy="174.3" r="2.7"/><circle cx="52.4" cy="173.2" r="2.7"/><circle cx="56.0" cy="170.4" r="2.7"/><circle cx="59.7" cy="167.6" r="2.7"/><circle cx="63.3" cy="164.3" r="2.7"/><circle cx="67.0" cy="159.7" r="2.7"/><circle cx="70.7" cy="154.0" r="2.7"/><circle cx="74.3" cy="147.1" r="2.7"/><circle cx="78.0" cy="139.9" r="2.7"/><circle cx="81.7" cy="131.8" r="2.7"/><circle cx="85.3" cy="122.2" r="2.7"/><circle cx="89.0" cy="113.2" r="2.7"/><circle cx="92.6" cy="103.4" r="2.7"/><circle cx="96.3" cy="94.6" r="2.7"/><circle cx="100.0" cy="86.1" r="2.7"/><circle cx="103.6" cy="79.4" r="2.7"/><circle cx="107.3" cy="73.0" r="2.7"/><circle cx="110.9" cy="68.8" r="2.7"/><circle cx="114.6" cy="65.5" r="2.7"/><circle cx="118.3" cy="63.5" r="2.7"/><circle cx="121.9" cy="61.9" r="2.7"/><circle cx="125.6" cy="62.6" r="2.7"/><circle cx="129.3" cy="63.2" r="2.7"/><circle cx="132.9" cy="63.8" r="2.7"/><circle cx="136.6" cy="63.3" r="2.7"/><circle cx="140.2" cy="63.1" r="2.7"/><circle cx="143.9" cy="61.3" r="2.7"/><circle cx="147.6" cy="58.7" r="2.7"/><circle cx="151.2" cy="55.8" r="2.7"/><circle cx="154.9" cy="50.9" r="2.7"/><circle cx="158.5" cy="46.6" r="2.7"/><circle cx="162.2" cy="42.6" r="2.7"/><circle cx="165.9" cy="38.6" r="2.7"/><circle cx="169.5" cy="36.5" r="2.7"/><circle cx="173.2" cy="36.0" r="2.7"/><circle cx="176.9" cy="37.5" r="2.7"/><circle cx="180.5" cy="40.8" r="2.7"/><circle cx="184.2" cy="47.2" r="2.7"/><circle cx="187.8" cy="55.7" r="2.7"/><circle cx="191.5" cy="64.4" r="2.7"/><circle cx="195.2" cy="76.4" r="2.7"/><circle cx="198.8" cy="88.1" r="2.7"/><circle cx="202.5" cy="100.2" r="2.7"/><circle cx="206.1" cy="113.4" r="2.7"/><circle cx="209.8" cy="124.7" r="2.7"/><circle cx="213.5" cy="134.9" r="2.7"/><circle cx="217.1" cy="145.1" r="2.7"/><circle cx="220.8" cy="153.8" r="2.7"/><circle cx="224.5" cy="160.7" r="2.7"/><circle cx="228.1" cy="166.8" r="2.7"/><circle cx="231.8" cy="171.2" r="2.7"/><circle cx="235.4" cy="175.1" r="2.7"/><circle cx="239.1" cy="178.1" r="2.7"/><circle cx="242.8" cy="179.3" r="2.7"/><circle cx="246.4" cy="181.0" r="2.7"/><circle cx="250.1" cy="181.7" r="2.7"/><circle cx="253.7" cy="182.6" r="2.7"/><circle cx="257.4" cy="182.5" r="2.7"/><circle cx="261.1" cy="183.0" r="2.7"/></g>
<rect x="26" y="9.5" width="238" height="182.5" fill="none" stroke="#161616" stroke-width="1.8"/>
<path d="M44.3 192v-3.2M44.3 9.5v3.2" stroke="#161616" stroke-width="1.4"/>
<text x="44.3" y="204" font-family="Liberation Serif" font-weight="bold" font-size="11" text-anchor="middle" fill="#161616">20</text>
<path d="M117.5 192v-3.2M117.5 9.5v3.2" stroke="#161616" stroke-width="1.4"/>
<text x="117.5" y="204" font-family="Liberation Serif" font-weight="bold" font-size="11" text-anchor="middle" fill="#161616">18</text>
<path d="M190.8 192v-3.2M190.8 9.5v3.2" stroke="#161616" stroke-width="1.4"/>
<text x="190.8" y="204" font-family="Liberation Serif" font-weight="bold" font-size="11" text-anchor="middle" fill="#161616">16</text>
<path d="M264.0 192v-3.2M264.0 9.5v3.2" stroke="#161616" stroke-width="1.4"/>
<text x="264.0" y="204" font-family="Liberation Serif" font-weight="bold" font-size="11" text-anchor="middle" fill="#161616">14</text>
<path d="M26 30.7h3.2M264 30.7h-3.2" stroke="#161616" stroke-width="1.4"/>
<path d="M26 69.3h3.2M264 69.3h-3.2" stroke="#161616" stroke-width="1.4"/>
<path d="M26 107.9h3.2M264 107.9h-3.2" stroke="#161616" stroke-width="1.4"/>
<path d="M26 146.5h3.2M264 146.5h-3.2" stroke="#161616" stroke-width="1.4"/>
<path d="M26 185.1h3.2M264 185.1h-3.2" stroke="#161616" stroke-width="1.4"/>
<text x="145.0" y="219.3" font-family="Liberation Serif" font-weight="bold" font-size="14.1" text-anchor="middle" fill="#161616">Binding energy (eV)</text>
<text transform="translate(17.8,100.8) rotate(-90)" font-family="Liberation Serif" font-weight="bold" font-size="14.1" text-anchor="middle" fill="#161616">Intensity (A.U.)</text>
<text x="30.2" y="26.5" font-family="Liberation Serif" font-weight="bold" font-size="14.5" fill="#161616">(a)</text>
<text x="259" y="26.7" font-family="Liberation Serif" font-weight="bold" font-size="14.5" text-anchor="end" fill="#161616">Hf 1s</text>
<text x="99.6" y="55.2" font-family="Liberation Serif" font-weight="bold" font-size="15" fill="#161616">4f<tspan font-size="10.5" dy="4" dx="0.6">5/2</tspan></text>
<text x="159.3" y="26.4" font-family="Liberation Serif" font-weight="bold" font-size="15" fill="#161616">4f<tspan font-size="10.5" dy="4" dx="0.6">7/2</tspan></text>
<text x="158.2" y="120.3" font-family="Liberation Serif" font-weight="bold" font-size="10.5" fill="#c13fd6">Hf<tspan font-size="7" dy="-5.8">4+</tspan></text><text x="158.2" y="133.8" font-family="Liberation Serif" font-weight="bold" font-size="10.5" fill="#c13fd6">71%</text>
<text x="117.4" y="160.6" font-family="Liberation Serif" font-weight="bold" font-size="10.5" fill="#137f7f">Hf<tspan font-size="7.2" dy="-3.6">n+</tspan></text><text x="117.4" y="174.1" font-family="Liberation Serif" font-weight="bold" font-size="10.5" fill="#137f7f">29%</text>
<polygon points="299.5,177.3 300.9,177.3 302.3,177.2 303.7,177.2 305.1,177.1 306.5,177.0 307.8,176.9 309.2,176.8 310.6,176.7 312.0,176.5 313.4,176.4 314.8,176.2 316.2,175.9 317.6,175.7 319.0,175.4 320.4,175.0 321.7,174.6 323.1,174.2 324.5,173.7 325.9,173.1 327.3,172.5 328.7,171.8 330.1,171.0 331.5,170.2 332.9,169.3 334.3,168.3 335.7,167.2 337.0,166.0 338.4,164.7 339.8,163.3 341.2,161.9 342.6,160.3 344.0,158.7 345.4,157.0 346.8,155.2 348.2,153.3 349.6,151.4 350.9,149.4 352.3,147.4 353.7,145.4 355.1,143.3 356.5,141.2 357.9,139.2 359.3,137.1 360.7,135.2 362.1,133.2 363.5,131.4 364.9,129.6 366.2,128.0 367.6,126.5 369.0,125.1 370.4,123.9 371.8,122.8 373.2,122.0 374.6,121.3 376.0,120.8 377.4,120.5 378.8,120.4 380.2,120.6 381.5,120.9 382.9,121.5 384.3,122.2 385.7,123.1 387.1,124.2 388.5,125.5 389.9,127.0 391.3,128.5 392.7,130.2 394.1,132.1 395.4,134.0 396.8,136.0 398.2,138.0 399.6,140.1 401.0,142.2 402.4,144.4 403.8,146.5 405.2,148.6 406.6,150.7 408.0,152.7 409.4,154.7 410.7,156.7 412.1,158.5 413.5,160.3 414.9,162.0 416.3,163.6 417.7,165.1 419.1,166.5 420.5,167.9 421.9,169.1 423.3,170.3 424.6,171.4 426.0,172.3 427.4,173.2 428.8,174.1 430.2,174.8 431.6,175.5 433.0,176.1 434.4,176.7 435.8,177.2 437.2,177.6 438.6,178.0 439.9,178.4 441.3,178.7 442.7,179.0 444.1,179.3 445.5,179.5 446.9,179.7 448.3,179.9 449.7,180.1 451.1,180.2 452.5,180.4 453.8,180.5 455.2,180.6 456.6,180.7 458.0,180.8 459.4,180.9 460.8,181.0 462.2,181.0 463.6,181.1 465.0,181.1 466.4,181.2 467.8,181.2 469.1,181.3 470.5,181.3 471.9,181.4 473.3,181.4 474.7,181.4 476.1,181.5 477.5,181.5 478.9,181.5 480.3,181.5 481.7,181.6 483.1,181.6 484.4,181.6 485.8,181.6 487.2,181.6 488.6,181.6 490.0,181.7 491.4,181.7 492.8,181.7 494.2,181.7 495.6,181.7 497.0,181.7 498.3,181.7 499.7,181.7 501.1,181.7 502.5,181.7 503.9,181.7 505.3,181.7 506.7,181.7 508.1,181.7 509.5,181.7 510.9,181.7 512.3,181.7 513.6,181.7 515.0,181.7 516.4,181.7 517.8,181.7 519.2,181.7 520.6,181.7 522.0,181.7 523.4,181.7 524.8,181.7 526.2,181.7 527.5,181.7 528.9,181.7 530.3,181.7 531.7,181.7 533.1,181.7 534.5,181.7 534.5,181.7 533.1,181.7 531.7,181.7 530.3,181.7 528.9,181.7 527.5,181.7 526.2,181.7 524.8,181.7 523.4,181.7 522.0,181.7 520.6,181.7 519.2,181.7 517.8,181.7 516.4,181.7 515.0,181.7 513.6,181.7 512.3,181.7 510.9,181.7 509.5,181.7 508.1,181.7 506.7,181.7 505.3,181.7 503.9,181.7 502.5,181.7 501.1,181.7 499.7,181.7 498.3,181.7 497.0,181.7 495.6,181.7 494.2,181.7 492.8,181.7 491.4,181.7 490.0,181.7 488.6,181.7 487.2,181.6 485.8,181.6 484.4,181.6 483.1,181.6 481.7,181.6 480.3,181.6 478.9,181.5 477.5,181.5 476.1,181.5 474.7,181.5 473.3,181.4 471.9,181.4 470.5,181.4 469.1,181.3 467.8,181.3 466.4,181.3 465.0,181.2 463.6,181.2 462.2,181.1 460.8,181.1 459.4,181.0 458.0,181.0 456.6,180.9 455.2,180.9 453.8,180.8 452.5,180.8 451.1,180.7 449.7,180.7 448.3,180.6 446.9,180.6 445.5,180.5 444.1,180.4 442.7,180.4 441.3,180.3 439.9,180.3 438.6,180.2 437.2,180.2 435.8,180.1 434.4,180.1 433.0,180.0 431.6,180.0 430.2,179.9 428.8,179.8 427.4,179.8 426.0,179.7 424.6,179.7 423.3,179.7 421.9,179.6 420.5,179.6 419.1,179.5 417.7,179.5 416.3,179.4 414.9,179.4 413.5,179.3 412.1,179.3 410.7,179.3 409.4,179.2 408.0,179.2 406.6,179.1 405.2,179.1 403.8,179.0 402.4,179.0 401.0,178.9 399.6,178.9 398.2,178.9 396.8,178.8 395.4,178.8 394.1,178.7 392.7,178.7 391.3,178.6 389.9,178.6 388.5,178.5 387.1,178.5 385.7,178.4 384.3,178.4 382.9,178.4 381.5,178.3 380.2,178.3 378.8,178.2 377.4,178.2 376.0,178.1 374.6,178.1 373.2,178.1 371.8,178.0 370.4,178.0 369.0,178.0 367.6,177.9 366.2,177.9 364.9,177.9 363.5,177.8 362.1,177.8 360.7,177.8 359.3,177.8 357.9,177.7 356.5,177.7 355.1,177.7 353.7,177.7 352.3,177.7 350.9,177.6 349.6,177.6 348.2,177.6 346.8,177.6 345.4,177.6 344.0,177.6 342.6,177.6 341.2,177.6 339.8,177.6 338.4,177.5 337.0,177.5 335.7,177.5 334.3,177.5 332.9,177.5 331.5,177.5 330.1,177.5 328.7,177.5 327.3,177.5 325.9,177.5 324.5,177.5 323.1,177.5 321.7,177.5 320.4,177.5 319.0,177.5 317.6,177.5 316.2,177.5 314.8,177.5 313.4,177.5 312.0,177.5 310.6,177.5 309.2,177.5 307.8,177.5 306.5,177.5 305.1,177.5 303.7,177.5 302.3,177.5 300.9,177.5 299.5,177.5" fill="#efc4fb"/>
<polyline points="299.5,177.3 300.9,177.3 302.3,177.2 303.7,177.2 305.1,177.1 306.5,177.0 307.8,176.9 309.2,176.8 310.6,176.7 312.0,176.5 313.4,176.4 314.8,176.2 316.2,175.9 317.6,175.7 319.0,175.4 320.4,175.0 321.7,174.6 323.1,174.2 324.5,173.7 325.9,173.1 327.3,172.5 328.7,171.8 330.1,171.0 331.5,170.2 332.9,169.3 334.3,168.3 335.7,167.2 337.0,166.0 338.4,164.7 339.8,163.3 341.2,161.9 342.6,160.3 344.0,158.7 345.4,157.0 346.8,155.2 348.2,153.3 349.6,151.4 350.9,149.4 352.3,147.4 353.7,145.4 355.1,143.3 356.5,141.2 357.9,139.2 359.3,137.1 360.7,135.2 362.1,133.2 363.5,131.4 364.9,129.6 366.2,128.0 367.6,126.5 369.0,125.1 370.4,123.9 371.8,122.8 373.2,122.0 374.6,121.3 376.0,120.8 377.4,120.5 378.8,120.4 380.2,120.6 381.5,120.9 382.9,121.5 384.3,122.2 385.7,123.1 387.1,124.2 388.5,125.5 389.9,127.0 391.3,128.5 392.7,130.2 394.1,132.1 395.4,134.0 396.8,136.0 398.2,138.0 399.6,140.1 401.0,142.2 402.4,144.4 403.8,146.5 405.2,148.6 406.6,150.7 408.0,152.7 409.4,154.7 410.7,156.7 412.1,158.5 413.5,160.3 414.9,162.0 416.3,163.6 417.7,165.1 419.1,166.5 420.5,167.9 421.9,169.1 423.3,170.3 424.6,171.4 426.0,172.3 427.4,173.2 428.8,174.1 430.2,174.8 431.6,175.5 433.0,176.1 434.4,176.7 435.8,177.2 437.2,177.6 438.6,178.0 439.9,178.4 441.3,178.7 442.7,179.0 444.1,179.3 445.5,179.5 446.9,179.7 448.3,179.9 449.7,180.1 451.1,180.2 452.5,180.4 453.8,180.5 455.2,180.6 456.6,180.7 458.0,180.8 459.4,180.9 460.8,181.0 462.2,181.0 463.6,181.1 465.0,181.1 466.4,181.2 467.8,181.2 469.1,181.3 470.5,181.3 471.9,181.4 473.3,181.4 474.7,181.4 476.1,181.5 477.5,181.5 478.9,181.5 480.3,181.5 481.7,181.6 483.1,181.6 484.4,181.6 485.8,181.6 487.2,181.6 488.6,181.6 490.0,181.7 491.4,181.7 492.8,181.7 494.2,181.7 495.6,181.7 497.0,181.7 498.3,181.7 499.7,181.7 501.1,181.7 502.5,181.7 503.9,181.7 505.3,181.7 506.7,181.7 508.1,181.7 509.5,181.7 510.9,181.7 512.3,181.7 513.6,181.7 515.0,181.7 516.4,181.7 517.8,181.7 519.2,181.7 520.6,181.7 522.0,181.7 523.4,181.7 524.8,181.7 526.2,181.7 527.5,181.7 528.9,181.7 530.3,181.7 531.7,181.7 533.1,181.7 534.5,181.7" fill="none" stroke="#c46cd8" stroke-width="1.1"/>
<polygon points="299.5,177.5 300.9,177.5 302.3,177.5 303.7,177.5 305.1,177.5 306.5,177.5 307.8,177.5 309.2,177.5 310.6,177.5 312.0,177.5 313.4,177.5 314.8,177.5 316.2,177.5 317.6,177.5 319.0,177.5 320.4,177.5 321.7,177.5 323.1,177.5 324.5,177.5 325.9,177.5 327.3,177.5 328.7,177.5 330.1,177.5 331.5,177.5 332.9,177.5 334.3,177.5 335.7,177.5 337.0,177.5 338.4,177.5 339.8,177.5 341.2,177.5 342.6,177.6 344.0,177.6 345.4,177.6 346.8,177.6 348.2,177.6 349.6,177.6 350.9,177.6 352.3,177.6 353.7,177.6 355.1,177.6 356.5,177.6 357.9,177.6 359.3,177.7 360.7,177.7 362.1,177.7 363.5,177.6 364.9,177.6 366.2,177.6 367.6,177.6 369.0,177.5 370.4,177.5 371.8,177.4 373.2,177.3 374.6,177.2 376.0,177.1 377.4,176.9 378.8,176.7 380.2,176.4 381.5,176.1 382.9,175.8 384.3,175.4 385.7,174.9 387.1,174.4 388.5,173.7 389.9,173.0 391.3,172.2 392.7,171.3 394.1,170.3 395.4,169.2 396.8,167.9 398.2,166.5 399.6,165.0 401.0,163.4 402.4,161.6 403.8,159.7 405.2,157.6 406.6,155.4 408.0,153.1 409.4,150.6 410.7,148.1 412.1,145.4 413.5,142.7 414.9,139.9 416.3,137.0 417.7,134.1 419.1,131.2 420.5,128.3 421.9,125.4 423.3,122.6 424.6,119.9 426.0,117.3 427.4,114.9 428.8,112.6 430.2,110.5 431.6,108.7 433.0,107.0 434.4,105.7 435.8,104.6 437.2,103.8 438.6,103.3 439.9,103.2 441.3,103.3 442.7,103.7 444.1,104.5 445.5,105.5 446.9,106.8 448.3,108.4 449.7,110.3 451.1,112.3 452.5,114.6 453.8,117.1 455.2,119.7 456.6,122.4 458.0,125.3 459.4,128.2 460.8,131.2 462.2,134.2 463.6,137.2 465.0,140.2 466.4,143.1 467.8,146.0 469.1,148.8 470.5,151.5 471.9,154.0 473.3,156.5 474.7,158.8 476.1,161.0 477.5,163.1 478.9,165.0 480.3,166.8 481.7,168.5 483.1,170.0 484.4,171.3 485.8,172.6 487.2,173.7 488.6,174.8 490.0,175.7 491.4,176.5 492.8,177.2 494.2,177.9 495.6,178.4 497.0,178.9 498.3,179.3 499.7,179.7 501.1,180.0 502.5,180.3 503.9,180.5 505.3,180.7 506.7,180.9 508.1,181.1 509.5,181.2 510.9,181.3 512.3,181.4 513.6,181.4 515.0,181.5 516.4,181.5 517.8,181.6 519.2,181.6 520.6,181.6 522.0,181.6 523.4,181.7 524.8,181.7 526.2,181.7 527.5,181.7 528.9,181.7 530.3,181.7 531.7,181.7 533.1,181.7 534.5,181.7 534.5,181.7 533.1,181.7 531.7,181.7 530.3,181.7 528.9,181.7 527.5,181.7 526.2,181.7 524.8,181.7 523.4,181.7 522.0,181.7 520.6,181.7 519.2,181.7 517.8,181.7 516.4,181.7 515.0,181.7 513.6,181.7 512.3,181.7 510.9,181.7 509.5,181.7 508.1,181.7 506.7,181.7 505.3,181.7 503.9,181.7 502.5,181.7 501.1,181.7 499.7,181.7 498.3,181.7 497.0,181.7 495.6,181.7 494.2,181.7 492.8,181.7 491.4,181.7 490.0,181.7 488.6,181.7 487.2,181.6 485.8,181.6 484.4,181.6 483.1,181.6 481.7,181.6 480.3,181.6 478.9,181.5 477.5,181.5 476.1,181.5 474.7,181.5 473.3,181.4 471.9,181.4 470.5,181.4 469.1,181.3 467.8,181.3 466.4,181.3 465.0,181.2 463.6,181.2 462.2,181.1 460.8,181.1 459.4,181.0 458.0,181.0 456.6,180.9 455.2,180.9 453.8,180.8 452.5,180.8 451.1,180.7 449.7,180.7 448.3,180.6 446.9,180.6 445.5,180.5 444.1,180.4 442.7,180.4 441.3,180.3 439.9,180.3 438.6,180.2 437.2,180.2 435.8,180.1 434.4,180.1 433.0,180.0 431.6,180.0 430.2,179.9 428.8,179.8 427.4,179.8 426.0,179.7 424.6,179.7 423.3,179.7 421.9,179.6 420.5,179.6 419.1,179.5 417.7,179.5 416.3,179.4 414.9,179.4 413.5,179.3 412.1,179.3 410.7,179.3 409.4,179.2 408.0,179.2 406.6,179.1 405.2,179.1 403.8,179.0 402.4,179.0 401.0,178.9 399.6,178.9 398.2,178.9 396.8,178.8 395.4,178.8 394.1,178.7 392.7,178.7 391.3,178.6 389.9,178.6 388.5,178.5 387.1,178.5 385.7,178.4 384.3,178.4 382.9,178.4 381.5,178.3 380.2,178.3 378.8,178.2 377.4,178.2 376.0,178.1 374.6,178.1 373.2,178.1 371.8,178.0 370.4,178.0 369.0,178.0 367.6,177.9 366.2,177.9 364.9,177.9 363.5,177.8 362.1,177.8 360.7,177.8 359.3,177.8 357.9,177.7 356.5,177.7 355.1,177.7 353.7,177.7 352.3,177.7 350.9,177.6 349.6,177.6 348.2,177.6 346.8,177.6 345.4,177.6 344.0,177.6 342.6,177.6 341.2,177.6 339.8,177.6 338.4,177.5 337.0,177.5 335.7,177.5 334.3,177.5 332.9,177.5 331.5,177.5 330.1,177.5 328.7,177.5 327.3,177.5 325.9,177.5 324.5,177.5 323.1,177.5 321.7,177.5 320.4,177.5 319.0,177.5 317.6,177.5 316.2,177.5 314.8,177.5 313.4,177.5 312.0,177.5 310.6,177.5 309.2,177.5 307.8,177.5 306.5,177.5 305.1,177.5 303.7,177.5 302.3,177.5 300.9,177.5 299.5,177.5" fill="#efc4fb"/>
<polyline points="299.5,177.5 300.9,177.5 302.3,177.5 303.7,177.5 305.1,177.5 306.5,177.5 307.8,177.5 309.2,177.5 310.6,177.5 312.0,177.5 313.4,177.5 314.8,177.5 316.2,177.5 317.6,177.5 319.0,177.5 320.4,177.5 321.7,177.5 323.1,177.5 324.5,177.5 325.9,177.5 327.3,177.5 328.7,177.5 330.1,177.5 331.5,177.5 332.9,177.5 334.3,177.5 335.7,177.5 337.0,177.5 338.4,177.5 339.8,177.5 341.2,177.5 342.6,177.6 344.0,177.6 345.4,177.6 346.8,177.6 348.2,177.6 349.6,177.6 350.9,177.6 352.3,177.6 353.7,177.6 355.1,177.6 356.5,177.6 357.9,177.6 359.3,177.7 360.7,177.7 362.1,177.7 363.5,177.6 364.9,177.6 366.2,177.6 367.6,177.6 369.0,177.5 370.4,177.5 371.8,177.4 373.2,177.3 374.6,177.2 376.0,177.1 377.4,176.9 378.8,176.7 380.2,176.4 381.5,176.1 382.9,175.8 384.3,175.4 385.7,174.9 387.1,174.4 388.5,173.7 389.9,173.0 391.3,172.2 392.7,171.3 394.1,170.3 395.4,169.2 396.8,167.9 398.2,166.5 399.6,165.0 401.0,163.4 402.4,161.6 403.8,159.7 405.2,157.6 406.6,155.4 408.0,153.1 409.4,150.6 410.7,148.1 412.1,145.4 413.5,142.7 414.9,139.9 416.3,137.0 417.7,134.1 419.1,131.2 420.5,128.3 421.9,125.4 423.3,122.6 424.6,119.9 426.0,117.3 427.4,114.9 428.8,112.6 430.2,110.5 431.6,108.7 433.0,107.0 434.4,105.7 435.8,104.6 437.2,103.8 438.6,103.3 439.9,103.2 441.3,103.3 442.7,103.7 444.1,104.5 445.5,105.5 446.9,106.8 448.3,108.4 449.7,110.3 451.1,112.3 452.5,114.6 453.8,117.1 455.2,119.7 456.6,122.4 458.0,125.3 459.4,128.2 460.8,131.2 462.2,134.2 463.6,137.2 465.0,140.2 466.4,143.1 467.8,146.0 469.1,148.8 470.5,151.5 471.9,154.0 473.3,156.5 474.7,158.8 476.1,161.0 477.5,163.1 478.9,165.0 480.3,166.8 481.7,168.5 483.1,170.0 484.4,171.3 485.8,172.6 487.2,173.7 488.6,174.8 490.0,175.7 491.4,176.5 492.8,177.2 494.2,177.9 495.6,178.4 497.0,178.9 498.3,179.3 499.7,179.7 501.1,180.0 502.5,180.3 503.9,180.5 505.3,180.7 506.7,180.9 508.1,181.1 509.5,181.2 510.9,181.3 512.3,181.4 513.6,181.4 515.0,181.5 516.4,181.5 517.8,181.6 519.2,181.6 520.6,181.6 522.0,181.6 523.4,181.7 524.8,181.7 526.2,181.7 527.5,181.7 528.9,181.7 530.3,181.7 531.7,181.7 533.1,181.7 534.5,181.7" fill="none" stroke="#c46cd8" stroke-width="1.1"/>
<polygon points="299.5,177.4 300.9,177.4 302.3,177.4 303.7,177.4 305.1,177.4 306.5,177.4 307.8,177.4 309.2,177.3 310.6,177.3 312.0,177.3 313.4,177.2 314.8,177.2 316.2,177.1 317.6,177.1 319.0,177.0 320.4,176.9 321.7,176.8 323.1,176.6 324.5,176.5 325.9,176.3 327.3,176.1 328.7,175.9 330.1,175.7 331.5,175.4 332.9,175.1 334.3,174.7 335.7,174.4 337.0,173.9 338.4,173.4 339.8,172.9 341.2,172.3 342.6,171.6 344.0,170.9 345.4,170.1 346.8,169.3 348.2,168.3 349.6,167.3 350.9,166.3 352.3,165.1 353.7,163.9 355.1,162.6 356.5,161.2 357.9,159.8 359.3,158.3 360.7,156.7 362.1,155.0 363.5,153.4 364.9,151.6 366.2,149.8 367.6,148.0 369.0,146.2 370.4,144.3 371.8,142.5 373.2,140.7 374.6,138.9 376.0,137.1 377.4,135.4 378.8,133.7 380.2,132.1 381.5,130.7 382.9,129.3 384.3,128.0 385.7,126.8 387.1,125.8 388.5,125.0 389.9,124.3 391.3,123.7 392.7,123.3 394.1,123.1 395.4,123.0 396.8,123.2 398.2,123.5 399.6,123.9 401.0,124.6 402.4,125.4 403.8,126.3 405.2,127.4 406.6,128.6 408.0,130.0 409.4,131.4 410.7,133.0 412.1,134.7 413.5,136.4 414.9,138.2 416.3,140.0 417.7,141.9 419.1,143.8 420.5,145.8 421.9,147.7 423.3,149.6 424.6,151.5 426.0,153.3 427.4,155.2 428.8,156.9 430.2,158.7 431.6,160.3 433.0,161.9 434.4,163.4 435.8,164.9 437.2,166.3 438.6,167.6 439.9,168.8 441.3,170.0 442.7,171.0 444.1,172.0 445.5,173.0 446.9,173.8 448.3,174.6 449.7,175.3 451.1,176.0 452.5,176.6 453.8,177.2 455.2,177.7 456.6,178.1 458.0,178.5 459.4,178.9 460.8,179.2 462.2,179.5 463.6,179.8 465.0,180.0 466.4,180.2 467.8,180.4 469.1,180.6 470.5,180.7 471.9,180.9 473.3,181.0 474.7,181.1 476.1,181.2 477.5,181.2 478.9,181.3 480.3,181.4 481.7,181.4 483.1,181.5 484.4,181.5 485.8,181.5 487.2,181.6 488.6,181.6 490.0,181.6 491.4,181.6 492.8,181.6 494.2,181.7 495.6,181.7 497.0,181.7 498.3,181.7 499.7,181.7 501.1,181.7 502.5,181.7 503.9,181.7 505.3,181.7 506.7,181.7 508.1,181.7 509.5,181.7 510.9,181.7 512.3,181.7 513.6,181.7 515.0,181.7 516.4,181.7 517.8,181.7 519.2,181.7 520.6,181.7 522.0,181.7 523.4,181.7 524.8,181.7 526.2,181.7 527.5,181.7 528.9,181.7 530.3,181.7 531.7,181.7 533.1,181.7 534.5,181.7 534.5,181.7 533.1,181.7 531.7,181.7 530.3,181.7 528.9,181.7 527.5,181.7 526.2,181.7 524.8,181.7 523.4,181.7 522.0,181.7 520.6,181.7 519.2,181.7 517.8,181.7 516.4,181.7 515.0,181.7 513.6,181.7 512.3,181.7 510.9,181.7 509.5,181.7 508.1,181.7 506.7,181.7 505.3,181.7 503.9,181.7 502.5,181.7 501.1,181.7 499.7,181.7 498.3,181.7 497.0,181.7 495.6,181.7 494.2,181.7 492.8,181.7 491.4,181.7 490.0,181.7 488.6,181.7 487.2,181.6 485.8,181.6 484.4,181.6 483.1,181.6 481.7,181.6 480.3,181.6 478.9,181.5 477.5,181.5 476.1,181.5 474.7,181.5 473.3,181.4 471.9,181.4 470.5,181.4 469.1,181.3 467.8,181.3 466.4,181.3 465.0,181.2 463.6,181.2 462.2,181.1 460.8,181.1 459.4,181.0 458.0,181.0 456.6,180.9 455.2,180.9 453.8,180.8 452.5,180.8 451.1,180.7 449.7,180.7 448.3,180.6 446.9,180.6 445.5,180.5 444.1,180.4 442.7,180.4 441.3,180.3 439.9,180.3 438.6,180.2 437.2,180.2 435.8,180.1 434.4,180.1 433.0,180.0 431.6,180.0 430.2,179.9 428.8,179.8 427.4,179.8 426.0,179.7 424.6,179.7 423.3,179.7 421.9,179.6 420.5,179.6 419.1,179.5 417.7,179.5 416.3,179.4 414.9,179.4 413.5,179.3 412.1,179.3 410.7,179.3 409.4,179.2 408.0,179.2 406.6,179.1 405.2,179.1 403.8,179.0 402.4,179.0 401.0,178.9 399.6,178.9 398.2,178.9 396.8,178.8 395.4,178.8 394.1,178.7 392.7,178.7 391.3,178.6 389.9,178.6 388.5,178.5 387.1,178.5 385.7,178.4 384.3,178.4 382.9,178.4 381.5,178.3 380.2,178.3 378.8,178.2 377.4,178.2 376.0,178.1 374.6,178.1 373.2,178.1 371.8,178.0 370.4,178.0 369.0,178.0 367.6,177.9 366.2,177.9 364.9,177.9 363.5,177.8 362.1,177.8 360.7,177.8 359.3,177.8 357.9,177.7 356.5,177.7 355.1,177.7 353.7,177.7 352.3,177.7 350.9,177.6 349.6,177.6 348.2,177.6 346.8,177.6 345.4,177.6 344.0,177.6 342.6,177.6 341.2,177.6 339.8,177.6 338.4,177.5 337.0,177.5 335.7,177.5 334.3,177.5 332.9,177.5 331.5,177.5 330.1,177.5 328.7,177.5 327.3,177.5 325.9,177.5 324.5,177.5 323.1,177.5 321.7,177.5 320.4,177.5 319.0,177.5 317.6,177.5 316.2,177.5 314.8,177.5 313.4,177.5 312.0,177.5 310.6,177.5 309.2,177.5 307.8,177.5 306.5,177.5 305.1,177.5 303.7,177.5 302.3,177.5 300.9,177.5 299.5,177.5" fill="rgba(170,240,252,0.72)"/>
<polyline points="299.5,177.4 300.9,177.4 302.3,177.4 303.7,177.4 305.1,177.4 306.5,177.4 307.8,177.4 309.2,177.3 310.6,177.3 312.0,177.3 313.4,177.2 314.8,177.2 316.2,177.1 317.6,177.1 319.0,177.0 320.4,176.9 321.7,176.8 323.1,176.6 324.5,176.5 325.9,176.3 327.3,176.1 328.7,175.9 330.1,175.7 331.5,175.4 332.9,175.1 334.3,174.7 335.7,174.4 337.0,173.9 338.4,173.4 339.8,172.9 341.2,172.3 342.6,171.6 344.0,170.9 345.4,170.1 346.8,169.3 348.2,168.3 349.6,167.3 350.9,166.3 352.3,165.1 353.7,163.9 355.1,162.6 356.5,161.2 357.9,159.8 359.3,158.3 360.7,156.7 362.1,155.0 363.5,153.4 364.9,151.6 366.2,149.8 367.6,148.0 369.0,146.2 370.4,144.3 371.8,142.5 373.2,140.7 374.6,138.9 376.0,137.1 377.4,135.4 378.8,133.7 380.2,132.1 381.5,130.7 382.9,129.3 384.3,128.0 385.7,126.8 387.1,125.8 388.5,125.0 389.9,124.3 391.3,123.7 392.7,123.3 394.1,123.1 395.4,123.0 396.8,123.2 398.2,123.5 399.6,123.9 401.0,124.6 402.4,125.4 403.8,126.3 405.2,127.4 406.6,128.6 408.0,130.0 409.4,131.4 410.7,133.0 412.1,134.7 413.5,136.4 414.9,138.2 416.3,140.0 417.7,141.9 419.1,143.8 420.5,145.8 421.9,147.7 423.3,149.6 424.6,151.5 426.0,153.3 427.4,155.2 428.8,156.9 430.2,158.7 431.6,160.3 433.0,161.9 434.4,163.4 435.8,164.9 437.2,166.3 438.6,167.6 439.9,168.8 441.3,170.0 442.7,171.0 444.1,172.0 445.5,173.0 446.9,173.8 448.3,174.6 449.7,175.3 451.1,176.0 452.5,176.6 453.8,177.2 455.2,177.7 456.6,178.1 458.0,178.5 459.4,178.9 460.8,179.2 462.2,179.5 463.6,179.8 465.0,180.0 466.4,180.2 467.8,180.4 469.1,180.6 470.5,180.7 471.9,180.9 473.3,181.0 474.7,181.1 476.1,181.2 477.5,181.2 478.9,181.3 480.3,181.4 481.7,181.4 483.1,181.5 484.4,181.5 485.8,181.5 487.2,181.6 488.6,181.6 490.0,181.6 491.4,181.6 492.8,181.6 494.2,181.7 495.6,181.7 497.0,181.7 498.3,181.7 499.7,181.7 501.1,181.7 502.5,181.7 503.9,181.7 505.3,181.7 506.7,181.7 508.1,181.7 509.5,181.7 510.9,181.7 512.3,181.7 513.6,181.7 515.0,181.7 516.4,181.7 517.8,181.7 519.2,181.7 520.6,181.7 522.0,181.7 523.4,181.7 524.8,181.7 526.2,181.7 527.5,181.7 528.9,181.7 530.3,181.7 531.7,181.7 533.1,181.7 534.5,181.7" fill="none" stroke="#5adde6" stroke-width="1.1"/>
<polygon points="299.5,177.5 300.9,177.5 302.3,177.5 303.7,177.5 305.1,177.5 306.5,177.5 307.8,177.5 309.2,177.5 310.6,177.5 312.0,177.5 313.4,177.5 314.8,177.5 316.2,177.5 317.6,177.5 319.0,177.5 320.4,177.5 321.7,177.5 323.1,177.5 324.5,177.5 325.9,177.5 327.3,177.5 328.7,177.5 330.1,177.5 331.5,177.5 332.9,177.5 334.3,177.5 335.7,177.5 337.0,177.5 338.4,177.5 339.8,177.5 341.2,177.6 342.6,177.6 344.0,177.6 345.4,177.6 346.8,177.6 348.2,177.6 349.6,177.6 350.9,177.6 352.3,177.6 353.7,177.7 355.1,177.7 356.5,177.7 357.9,177.7 359.3,177.7 360.7,177.8 362.1,177.8 363.5,177.8 364.9,177.8 366.2,177.9 367.6,177.9 369.0,177.9 370.4,178.0 371.8,178.0 373.2,178.0 374.6,178.0 376.0,178.1 377.4,178.1 378.8,178.1 380.2,178.1 381.5,178.1 382.9,178.1 384.3,178.1 385.7,178.1 387.1,178.1 388.5,178.0 389.9,178.0 391.3,177.9 392.7,177.8 394.1,177.7 395.4,177.5 396.8,177.3 398.2,177.1 399.6,176.8 401.0,176.5 402.4,176.1 403.8,175.7 405.2,175.1 406.6,174.6 408.0,173.9 409.4,173.2 410.7,172.3 412.1,171.4 413.5,170.3 414.9,169.2 416.3,167.9 417.7,166.6 419.1,165.1 420.5,163.5 421.9,161.8 423.3,160.0 424.6,158.0 426.0,156.0 427.4,153.9 428.8,151.7 430.2,149.5 431.6,147.1 433.0,144.8 434.4,142.4 435.8,140.0 437.2,137.7 438.6,135.4 439.9,133.1 441.3,131.0 442.7,128.9 444.1,127.0 445.5,125.2 446.9,123.6 448.3,122.2 449.7,121.0 451.1,120.0 452.5,119.2 453.8,118.7 455.2,118.5 456.6,118.5 458.0,118.8 459.4,119.3 460.8,120.0 462.2,121.0 463.6,122.3 465.0,123.7 466.4,125.3 467.8,127.2 469.1,129.1 470.5,131.2 471.9,133.5 473.3,135.8 474.7,138.2 476.1,140.6 477.5,143.0 478.9,145.5 480.3,147.9 481.7,150.3 483.1,152.7 484.4,155.0 485.8,157.2 487.2,159.3 488.6,161.3 490.0,163.2 491.4,165.0 492.8,166.7 494.2,168.3 495.6,169.7 497.0,171.1 498.3,172.3 499.7,173.4 501.1,174.5 502.5,175.4 503.9,176.2 505.3,176.9 506.7,177.6 508.1,178.2 509.5,178.7 510.9,179.1 512.3,179.5 513.6,179.9 515.0,180.2 516.4,180.4 517.8,180.6 519.2,180.8 520.6,181.0 522.0,181.1 523.4,181.2 524.8,181.3 526.2,181.4 527.5,181.5 528.9,181.5 530.3,181.5 531.7,181.6 533.1,181.6 534.5,181.6 534.5,181.7 533.1,181.7 531.7,181.7 530.3,181.7 528.9,181.7 527.5,181.7 526.2,181.7 524.8,181.7 523.4,181.7 522.0,181.7 520.6,181.7 519.2,181.7 517.8,181.7 516.4,181.7 515.0,181.7 513.6,181.7 512.3,181.7 510.9,181.7 509.5,181.7 508.1,181.7 506.7,181.7 505.3,181.7 503.9,181.7 502.5,181.7 501.1,181.7 499.7,181.7 498.3,181.7 497.0,181.7 495.6,181.7 494.2,181.7 492.8,181.7 491.4,181.7 490.0,181.7 488.6,181.7 487.2,181.6 485.8,181.6 484.4,181.6 483.1,181.6 481.7,181.6 480.3,181.6 478.9,181.5 477.5,181.5 476.1,181.5 474.7,181.5 473.3,181.4 471.9,181.4 470.5,181.4 469.1,181.3 467.8,181.3 466.4,181.3 465.0,181.2 463.6,181.2 462.2,181.1 460.8,181.1 459.4,181.0 458.0,181.0 456.6,180.9 455.2,180.9 453.8,180.8 452.5,180.8 451.1,180.7 449.7,180.7 448.3,180.6 446.9,180.6 445.5,180.5 444.1,180.4 442.7,180.4 441.3,180.3 439.9,180.3 438.6,180.2 437.2,180.2 435.8,180.1 434.4,180.1 433.0,180.0 431.6,180.0 430.2,179.9 428.8,179.8 427.4,179.8 426.0,179.7 424.6,179.7 423.3,179.7 421.9,179.6 420.5,179.6 419.1,179.5 417.7,179.5 416.3,179.4 414.9,179.4 413.5,179.3 412.1,179.3 410.7,179.3 409.4,179.2 408.0,179.2 406.6,179.1 405.2,179.1 403.8,179.0 402.4,179.0 401.0,178.9 399.6,178.9 398.2,178.9 396.8,178.8 395.4,178.8 394.1,178.7 392.7,178.7 391.3,178.6 389.9,178.6 388.5,178.5 387.1,178.5 385.7,178.4 384.3,178.4 382.9,178.4 381.5,178.3 380.2,178.3 378.8,178.2 377.4,178.2 376.0,178.1 374.6,178.1 373.2,178.1 371.8,178.0 370.4,178.0 369.0,178.0 367.6,177.9 366.2,177.9 364.9,177.9 363.5,177.8 362.1,177.8 360.7,177.8 359.3,177.8 357.9,177.7 356.5,177.7 355.1,177.7 353.7,177.7 352.3,177.7 350.9,177.6 349.6,177.6 348.2,177.6 346.8,177.6 345.4,177.6 344.0,177.6 342.6,177.6 341.2,177.6 339.8,177.6 338.4,177.5 337.0,177.5 335.7,177.5 334.3,177.5 332.9,177.5 331.5,177.5 330.1,177.5 328.7,177.5 327.3,177.5 325.9,177.5 324.5,177.5 323.1,177.5 321.7,177.5 320.4,177.5 319.0,177.5 317.6,177.5 316.2,177.5 314.8,177.5 313.4,177.5 312.0,177.5 310.6,177.5 309.2,177.5 307.8,177.5 306.5,177.5 305.1,177.5 303.7,177.5 302.3,177.5 300.9,177.5 299.5,177.5" fill="rgba(170,240,252,0.72)"/>
<polyline points="299.5,177.5 300.9,177.5 302.3,177.5 303.7,177.5 305.1,177.5 306.5,177.5 307.8,177.5 309.2,177.5 310.6,177.5 312.0,177.5 313.4,177.5 314.8,177.5 316.2,177.5 317.6,177.5 319.0,177.5 320.4,177.5 321.7,177.5 323.1,177.5 324.5,177.5 325.9,177.5 327.3,177.5 328.7,177.5 330.1,177.5 331.5,177.5 332.9,177.5 334.3,177.5 335.7,177.5 337.0,177.5 338.4,177.5 339.8,177.5 341.2,177.6 342.6,177.6 344.0,177.6 345.4,177.6 346.8,177.6 348.2,177.6 349.6,177.6 350.9,177.6 352.3,177.6 353.7,177.7 355.1,177.7 356.5,177.7 357.9,177.7 359.3,177.7 360.7,177.8 362.1,177.8 363.5,177.8 364.9,177.8 366.2,177.9 367.6,177.9 369.0,177.9 370.4,178.0 371.8,178.0 373.2,178.0 374.6,178.0 376.0,178.1 377.4,178.1 378.8,178.1 380.2,178.1 381.5,178.1 382.9,178.1 384.3,178.1 385.7,178.1 387.1,178.1 388.5,178.0 389.9,178.0 391.3,177.9 392.7,177.8 394.1,177.7 395.4,177.5 396.8,177.3 398.2,177.1 399.6,176.8 401.0,176.5 402.4,176.1 403.8,175.7 405.2,175.1 406.6,174.6 408.0,173.9 409.4,173.2 410.7,172.3 412.1,171.4 413.5,170.3 414.9,169.2 416.3,167.9 417.7,166.6 419.1,165.1 420.5,163.5 421.9,161.8 423.3,160.0 424.6,158.0 426.0,156.0 427.4,153.9 428.8,151.7 430.2,149.5 431.6,147.1 433.0,144.8 434.4,142.4 435.8,140.0 437.2,137.7 438.6,135.4 439.9,133.1 441.3,131.0 442.7,128.9 444.1,127.0 445.5,125.2 446.9,123.6 448.3,122.2 449.7,121.0 451.1,120.0 452.5,119.2 453.8,118.7 455.2,118.5 456.6,118.5 458.0,118.8 459.4,119.3 460.8,120.0 462.2,121.0 463.6,122.3 465.0,123.7 466.4,125.3 467.8,127.2 469.1,129.1 470.5,131.2 471.9,133.5 473.3,135.8 474.7,138.2 476.1,140.6 477.5,143.0 478.9,145.5 480.3,147.9 481.7,150.3 483.1,152.7 484.4,155.0 485.8,157.2 487.2,159.3 488.6,161.3 490.0,163.2 491.4,165.0 492.8,166.7 494.2,168.3 495.6,169.7 497.0,171.1 498.3,172.3 499.7,173.4 501.1,174.5 502.5,175.4 503.9,176.2 505.3,176.9 506.7,177.6 508.1,178.2 509.5,178.7 510.9,179.1 512.3,179.5 513.6,179.9 515.0,180.2 516.4,180.4 517.8,180.6 519.2,180.8 520.6,181.0 522.0,181.1 523.4,181.2 524.8,181.3 526.2,181.4 527.5,181.5 528.9,181.5 530.3,181.5 531.7,181.6 533.1,181.6 534.5,181.6" fill="none" stroke="#5adde6" stroke-width="1.1"/>
<polyline points="299.5,177.5 300.9,177.5 302.3,177.5 303.7,177.5 305.1,177.5 306.5,177.5 307.8,177.5 309.2,177.5 310.6,177.5 312.0,177.5 313.4,177.5 314.8,177.5 316.2,177.5 317.6,177.5 319.0,177.5 320.4,177.5 321.7,177.5 323.1,177.5 324.5,177.5 325.9,177.5 327.3,177.5 328.7,177.5 330.1,177.5 331.5,177.5 332.9,177.5 334.3,177.5 335.7,177.5 337.0,177.5 338.4,177.5 339.8,177.6 341.2,177.6 342.6,177.6 344.0,177.6 345.4,177.6 346.8,177.6 348.2,177.6 349.6,177.6 350.9,177.6 352.3,177.7 353.7,177.7 355.1,177.7 356.5,177.7 357.9,177.7 359.3,177.8 360.7,177.8 362.1,177.8 363.5,177.8 364.9,177.9 366.2,177.9 367.6,177.9 369.0,178.0 370.4,178.0 371.8,178.0 373.2,178.1 374.6,178.1 376.0,178.1 377.4,178.2 378.8,178.2 380.2,178.3 381.5,178.3 382.9,178.4 384.3,178.4 385.7,178.4 387.1,178.5 388.5,178.5 389.9,178.6 391.3,178.6 392.7,178.7 394.1,178.7 395.4,178.8 396.8,178.8 398.2,178.9 399.6,178.9 401.0,178.9 402.4,179.0 403.8,179.0 405.2,179.1 406.6,179.1 408.0,179.2 409.4,179.2 410.7,179.3 412.1,179.3 413.5,179.3 414.9,179.4 416.3,179.4 417.7,179.5 419.1,179.5 420.5,179.6 421.9,179.6 423.3,179.7 424.6,179.7 426.0,179.7 427.4,179.8 428.8,179.8 430.2,179.9 431.6,180.0 433.0,180.0 434.4,180.1 435.8,180.1 437.2,180.2 438.6,180.2 439.9,180.3 441.3,180.3 442.7,180.4 444.1,180.4 445.5,180.5 446.9,180.6 448.3,180.6 449.7,180.7 451.1,180.7 452.5,180.8 453.8,180.8 455.2,180.9 456.6,180.9 458.0,181.0 459.4,181.0 460.8,181.1 462.2,181.1 463.6,181.2 465.0,181.2 466.4,181.3 467.8,181.3 469.1,181.3 470.5,181.4 471.9,181.4 473.3,181.4 474.7,181.5 476.1,181.5 477.5,181.5 478.9,181.5 480.3,181.6 481.7,181.6 483.1,181.6 484.4,181.6 485.8,181.6 487.2,181.6 488.6,181.7 490.0,181.7 491.4,181.7 492.8,181.7 494.2,181.7 495.6,181.7 497.0,181.7 498.3,181.7 499.7,181.7 501.1,181.7 502.5,181.7 503.9,181.7 505.3,181.7 506.7,181.7 508.1,181.7 509.5,181.7 510.9,181.7 512.3,181.7 513.6,181.7 515.0,181.7 516.4,181.7 517.8,181.7 519.2,181.7 520.6,181.7 522.0,181.7 523.4,181.7 524.8,181.7 526.2,181.7 527.5,181.7 528.9,181.7 530.3,181.7 531.7,181.7 533.1,181.7 534.5,181.7" fill="none" stroke="#88e39a" stroke-width="1.4"/>
<polyline points="299.5,177.2 300.9,177.2 302.3,177.1 303.7,177.1 305.1,177.0 306.5,176.9 307.8,176.8 309.2,176.6 310.6,176.5 312.0,176.3 313.4,176.1 314.8,175.8 316.2,175.5 317.6,175.2 319.0,174.8 320.4,174.4 321.7,173.9 323.1,173.3 324.5,172.7 325.9,171.9 327.3,171.1 328.7,170.2 330.1,169.2 331.5,168.1 332.9,166.8 334.3,165.5 335.7,164.0 337.0,162.3 338.4,160.6 339.8,158.7 341.2,156.6 342.6,154.4 344.0,152.0 345.4,149.5 346.8,146.8 348.2,144.0 349.6,141.1 350.9,138.0 352.3,134.8 353.7,131.5 355.1,128.1 356.5,124.7 357.9,121.1 359.3,117.5 360.7,113.9 362.1,110.3 363.5,106.7 364.9,103.1 366.2,99.6 367.6,96.2 369.0,92.9 370.4,89.7 371.8,86.6 373.2,83.8 374.6,81.1 376.0,78.6 377.4,76.3 378.8,74.3 380.2,72.5 381.5,70.9 382.9,69.6 384.3,68.5 385.7,67.7 387.1,67.1 388.5,66.7 389.9,66.5 391.3,66.5 392.7,66.7 394.1,67.0 395.4,67.4 396.8,67.9 398.2,68.5 399.6,69.2 401.0,69.8 402.4,70.5 403.8,71.0 405.2,71.5 406.6,71.9 408.0,72.2 409.4,72.3 410.7,72.3 412.1,72.1 413.5,71.7 414.9,71.1 416.3,70.3 417.7,69.3 419.1,68.1 420.5,66.7 421.9,65.2 423.3,63.5 424.6,61.7 426.0,59.8 427.4,57.8 428.8,55.8 430.2,53.8 431.6,51.8 433.0,49.9 434.4,48.1 435.8,46.4 437.2,44.9 438.6,43.7 439.9,42.7 441.3,41.9 442.7,41.5 444.1,41.4 445.5,41.7 446.9,42.3 448.3,43.3 449.7,44.6 451.1,46.4 452.5,48.5 453.8,51.0 455.2,53.8 456.6,56.9 458.0,60.4 459.4,64.2 460.8,68.2 462.2,72.4 463.6,76.8 465.0,81.4 466.4,86.1 467.8,90.9 469.1,95.8 470.5,100.7 471.9,105.5 473.3,110.4 474.7,115.1 476.1,119.8 477.5,124.3 478.9,128.7 480.3,133.0 481.7,137.0 483.1,140.9 484.4,144.6 485.8,148.0 487.2,151.3 488.6,154.3 490.0,157.2 491.4,159.8 492.8,162.2 494.2,164.4 495.6,166.4 497.0,168.2 498.3,169.9 499.7,171.4 501.1,172.7 502.5,173.9 503.9,175.0 505.3,175.9 506.7,176.7 508.1,177.5 509.5,178.1 510.9,178.7 512.3,179.1 513.6,179.5 515.0,179.9 516.4,180.2 517.8,180.4 519.2,180.7 520.6,180.8 522.0,181.0 523.4,181.1 524.8,181.2 526.2,181.3 527.5,181.4 528.9,181.5 530.3,181.5 531.7,181.5 533.1,181.6 534.5,181.6" fill="none" stroke="#b3222a" stroke-width="1.6"/>
<g fill="none" stroke="#707070" stroke-width="0.85"><circle cx="302.1" cy="177.5" r="2.7"/><circle cx="305.8" cy="177.3" r="2.7"/><circle cx="309.4" cy="176.2" r="2.7"/><circle cx="313.1" cy="175.9" r="2.7"/><circle cx="316.8" cy="175.6" r="2.7"/><circle cx="320.5" cy="173.6" r="2.7"/><circle cx="324.1" cy="172.7" r="2.7"/><circle cx="327.8" cy="170.8" r="2.7"/><circle cx="331.5" cy="168.5" r="2.7"/><circle cx="335.1" cy="164.8" r="2.7"/><circle cx="338.8" cy="159.9" r="2.7"/><circle cx="342.5" cy="154.5" r="2.7"/><circle cx="346.2" cy="148.0" r="2.7"/><circle cx="349.8" cy="141.0" r="2.7"/><circle cx="353.5" cy="131.9" r="2.7"/><circle cx="357.2" cy="122.9" r="2.7"/><circle cx="360.8" cy="113.6" r="2.7"/><circle cx="364.5" cy="104.0" r="2.7"/><circle cx="368.2" cy="94.8" r="2.7"/><circle cx="371.8" cy="86.2" r="2.7"/><circle cx="375.5" cy="79.4" r="2.7"/><circle cx="379.2" cy="73.6" r="2.7"/><circle cx="382.9" cy="70.1" r="2.7"/><circle cx="386.5" cy="67.5" r="2.7"/><circle cx="390.2" cy="66.5" r="2.7"/><circle cx="393.9" cy="67.2" r="2.7"/><circle cx="397.5" cy="68.1" r="2.7"/><circle cx="401.2" cy="70.3" r="2.7"/><circle cx="404.9" cy="71.4" r="2.7"/><circle cx="408.6" cy="72.5" r="2.7"/><circle cx="412.2" cy="71.6" r="2.7"/><circle cx="415.9" cy="70.6" r="2.7"/><circle cx="419.6" cy="67.0" r="2.7"/><circle cx="423.2" cy="62.8" r="2.7"/><circle cx="426.9" cy="58.4" r="2.7"/><circle cx="430.6" cy="52.9" r="2.7"/><circle cx="434.3" cy="48.3" r="2.7"/><circle cx="437.9" cy="45.0" r="2.7"/><circle cx="441.6" cy="41.6" r="2.7"/><circle cx="445.3" cy="41.4" r="2.7"/><circle cx="448.9" cy="44.0" r="2.7"/><circle cx="452.6" cy="48.9" r="2.7"/><circle cx="456.3" cy="56.1" r="2.7"/><circle cx="459.9" cy="65.6" r="2.7"/><circle cx="463.6" cy="77.2" r="2.7"/><circle cx="467.3" cy="89.5" r="2.7"/><circle cx="471.0" cy="101.8" r="2.7"/><circle cx="474.6" cy="114.8" r="2.7"/><circle cx="478.3" cy="126.9" r="2.7"/><circle cx="482.0" cy="137.5" r="2.7"/><circle cx="485.6" cy="147.7" r="2.7"/><circle cx="489.3" cy="155.5" r="2.7"/><circle cx="493.0" cy="162.8" r="2.7"/><circle cx="496.7" cy="167.9" r="2.7"/><circle cx="500.3" cy="172.0" r="2.7"/><circle cx="504.0" cy="174.8" r="2.7"/><circle cx="507.7" cy="177.2" r="2.7"/><circle cx="511.3" cy="178.1" r="2.7"/><circle cx="515.0" cy="179.5" r="2.7"/><circle cx="518.7" cy="180.7" r="2.7"/><circle cx="522.4" cy="180.3" r="2.7"/><circle cx="526.0" cy="181.6" r="2.7"/><circle cx="529.7" cy="180.9" r="2.7"/><circle cx="533.4" cy="181.8" r="2.7"/></g>
<rect x="297.7" y="9.5" width="238.59999999999997" height="182.5" fill="none" stroke="#161616" stroke-width="1.8"/>
<path d="M316.1 192v-3.2M316.1 9.5v3.2" stroke="#161616" stroke-width="1.4"/>
<text x="316.1" y="204" font-family="Liberation Serif" font-weight="bold" font-size="11" text-anchor="middle" fill="#161616">20</text>
<path d="M389.5 192v-3.2M389.5 9.5v3.2" stroke="#161616" stroke-width="1.4"/>
<text x="389.5" y="204" font-family="Liberation Serif" font-weight="bold" font-size="11" text-anchor="middle" fill="#161616">18</text>
<path d="M462.9 192v-3.2M462.9 9.5v3.2" stroke="#161616" stroke-width="1.4"/>
<text x="462.9" y="204" font-family="Liberation Serif" font-weight="bold" font-size="11" text-anchor="middle" fill="#161616">16</text>
<path d="M536.3 192v-3.2M536.3 9.5v3.2" stroke="#161616" stroke-width="1.4"/>
<text x="536.3" y="204" font-family="Liberation Serif" font-weight="bold" font-size="11" text-anchor="middle" fill="#161616">14</text>
<path d="M297.7 28.9h3.2M536.3 28.9h-3.2" stroke="#161616" stroke-width="1.4"/>
<path d="M297.7 67.6h3.2M536.3 67.6h-3.2" stroke="#161616" stroke-width="1.4"/>
<path d="M297.7 106.7h3.2M536.3 106.7h-3.2" stroke="#161616" stroke-width="1.4"/>
<path d="M297.7 145.3h3.2M536.3 145.3h-3.2" stroke="#161616" stroke-width="1.4"/>
<path d="M297.7 184.4h3.2M536.3 184.4h-3.2" stroke="#161616" stroke-width="1.4"/>
<text x="417.0" y="219.5" font-family="Liberation Serif" font-weight="bold" font-size="14.1" text-anchor="middle" fill="#161616">Binding energy (eV)</text>
<text transform="translate(289.8,100.8) rotate(-90)" font-family="Liberation Serif" font-weight="bold" font-size="14.1" text-anchor="middle" fill="#161616">Intensity (A.U.)</text>
<text x="301.9" y="26.5" font-family="Liberation Serif" font-weight="bold" font-size="14.5" fill="#161616">(b)</text>
<text x="531.3" y="26.7" font-family="Liberation Serif" font-weight="bold" font-size="14.5" text-anchor="end" fill="#161616">Hf 1s</text>
<text x="372.8" y="57.8" font-family="Liberation Serif" font-weight="bold" font-size="15" fill="#161616">4f<tspan font-size="10.5" dy="4" dx="0.6">5/2</tspan></text>
<text x="430.3" y="33.3" font-family="Liberation Serif" font-weight="bold" font-size="15" fill="#161616">4f<tspan font-size="10.5" dy="4" dx="0.6">7/2</tspan></text>
<text x="430.5" y="125.6" font-family="Liberation Serif" font-weight="bold" font-size="10.5" fill="#c13fd6">Hf<tspan font-size="7" dy="-5.8">4+</tspan></text><text x="430.5" y="139.1" font-family="Liberation Serif" font-weight="bold" font-size="10.5" fill="#c13fd6">53%</text>
<text x="385.8" y="156.3" font-family="Liberation Serif" font-weight="bold" font-size="10.5" fill="#137f7f">Hf<tspan font-size="7.2" dy="-3.6">n+</tspan></text><text x="385.8" y="169.8" font-family="Liberation Serif" font-weight="bold" font-size="10.5" fill="#137f7f">47%</text>
<polygon points="48.0,391.0 49.2,391.0 50.3,391.0 51.5,391.0 52.7,391.0 53.8,391.0 55.0,391.0 56.2,391.0 57.3,391.0 58.5,391.0 59.7,391.1 60.8,391.1 62.0,391.1 63.2,391.1 64.3,391.1 65.5,391.1 66.7,391.1 67.8,391.1 69.0,391.1 70.1,391.1 71.3,391.1 72.5,391.1 73.6,391.1 74.8,391.1 76.0,391.1 77.1,391.1 78.3,391.1 79.5,391.1 80.6,391.1 81.8,391.1 83.0,391.1 84.1,391.1 85.3,391.1 86.5,391.1 87.6,391.1 88.8,391.0 90.0,391.0 91.1,391.0 92.3,391.0 93.5,390.9 94.6,390.9 95.8,390.8 97.0,390.7 98.1,390.6 99.3,390.5 100.5,390.4 101.6,390.2 102.8,390.0 104.0,389.8 105.1,389.6 106.3,389.3 107.4,389.0 108.6,388.6 109.8,388.2 110.9,387.7 112.1,387.1 113.3,386.5 114.4,385.8 115.6,385.1 116.8,384.2 117.9,383.3 119.1,382.2 120.3,381.1 121.4,379.8 122.6,378.4 123.8,376.9 124.9,375.3 126.1,373.5 127.3,371.6 128.4,369.6 129.6,367.4 130.8,365.0 131.9,362.5 133.1,359.8 134.3,357.0 135.4,354.1 136.6,351.0 137.8,347.8 138.9,344.4 140.1,340.9 141.3,337.3 142.4,333.6 143.6,329.8 144.8,325.9 145.9,322.0 147.1,318.1 148.2,314.1 149.4,310.1 150.6,306.2 151.7,302.3 152.9,298.5 154.1,294.7 155.2,291.1 156.4,287.6 157.6,284.3 158.7,281.2 159.9,278.3 161.1,275.7 162.2,273.3 163.4,271.1 164.6,269.3 165.7,267.7 166.9,266.5 168.1,265.6 169.2,265.0 170.4,264.8 171.6,264.9 172.7,265.4 173.9,266.2 175.1,267.3 176.2,268.8 177.4,270.6 178.6,272.6 179.7,275.0 180.9,277.7 182.1,280.6 183.2,283.7 184.4,287.0 185.6,290.5 186.7,294.2 187.9,298.0 189.0,302.0 190.2,306.0 191.4,310.1 192.5,314.2 193.7,318.4 194.9,322.6 196.0,326.7 197.2,330.8 198.4,334.8 199.5,338.8 200.7,342.6 201.9,346.4 203.0,350.0 204.2,353.6 205.4,356.9 206.5,360.2 207.7,363.2 208.9,366.2 210.0,369.0 211.2,371.6 212.4,374.0 213.5,376.3 214.7,378.5 215.9,380.5 217.0,382.4 218.2,384.1 219.4,385.7 220.5,387.1 221.7,388.5 222.9,389.7 224.0,390.8 225.2,391.8 226.3,392.7 227.5,393.6 228.7,394.3 229.8,395.0 231.0,395.6 232.2,396.1 233.3,396.6 234.5,397.0 235.7,397.4 236.8,397.7 238.0,398.0 239.2,398.2 240.3,398.4 241.5,398.6 242.7,398.8 243.8,398.9 245.0,399.1 245.0,399.7 243.8,399.7 242.7,399.7 241.5,399.7 240.3,399.7 239.2,399.7 238.0,399.7 236.8,399.7 235.7,399.7 234.5,399.7 233.3,399.7 232.2,399.7 231.0,399.7 229.8,399.7 228.7,399.7 227.5,399.7 226.3,399.7 225.2,399.7 224.0,399.7 222.9,399.7 221.7,399.7 220.5,399.6 219.4,399.6 218.2,399.6 217.0,399.6 215.9,399.6 214.7,399.6 213.5,399.5 212.4,399.5 211.2,399.5 210.0,399.5 208.9,399.4 207.7,399.4 206.5,399.3 205.4,399.3 204.2,399.3 203.0,399.2 201.9,399.2 200.7,399.1 199.5,399.0 198.4,399.0 197.2,398.9 196.0,398.8 194.9,398.8 193.7,398.7 192.5,398.6 191.4,398.5 190.2,398.4 189.0,398.3 187.9,398.2 186.7,398.1 185.6,398.0 184.4,397.9 183.2,397.8 182.1,397.7 180.9,397.5 179.7,397.4 178.6,397.3 177.4,397.1 176.2,397.0 175.1,396.9 173.9,396.7 172.7,396.6 171.6,396.5 170.4,396.3 169.2,396.2 168.1,396.0 166.9,395.9 165.7,395.8 164.6,395.6 163.4,395.5 162.2,395.3 161.1,395.2 159.9,395.1 158.7,394.9 157.6,394.8 156.4,394.7 155.2,394.6 154.1,394.4 152.9,394.3 151.7,394.2 150.6,394.1 149.4,394.0 148.2,393.9 147.1,393.8 145.9,393.7 144.8,393.6 143.6,393.5 142.4,393.4 141.3,393.3 140.1,393.2 138.9,393.1 137.8,393.0 136.6,393.0 135.4,392.9 134.3,392.8 133.1,392.7 131.9,392.7 130.8,392.6 129.6,392.5 128.4,392.5 127.3,392.4 126.1,392.4 124.9,392.3 123.8,392.3 122.6,392.2 121.4,392.2 120.3,392.1 119.1,392.1 117.9,392.0 116.8,392.0 115.6,391.9 114.4,391.9 113.3,391.8 112.1,391.8 110.9,391.8 109.8,391.7 108.6,391.7 107.4,391.6 106.3,391.6 105.1,391.6 104.0,391.5 102.8,391.5 101.6,391.5 100.5,391.5 99.3,391.4 98.1,391.4 97.0,391.4 95.8,391.4 94.6,391.3 93.5,391.3 92.3,391.3 91.1,391.3 90.0,391.3 88.8,391.2 87.6,391.2 86.5,391.2 85.3,391.2 84.1,391.2 83.0,391.2 81.8,391.2 80.6,391.2 79.5,391.1 78.3,391.1 77.1,391.1 76.0,391.1 74.8,391.1 73.6,391.1 72.5,391.1 71.3,391.1 70.1,391.1 69.0,391.1 67.8,391.1 66.7,391.1 65.5,391.1 64.3,391.1 63.2,391.1 62.0,391.1 60.8,391.1 59.7,391.1 58.5,391.1 57.3,391.1 56.2,391.1 55.0,391.0 53.8,391.0 52.7,391.0 51.5,391.0 50.3,391.0 49.2,391.0 48.0,391.0" fill="#efc4fb"/>
<polyline points="48.0,391.0 49.2,391.0 50.3,391.0 51.5,391.0 52.7,391.0 53.8,391.0 55.0,391.0 56.2,391.0 57.3,391.0 58.5,391.0 59.7,391.1 60.8,391.1 62.0,391.1 63.2,391.1 64.3,391.1 65.5,391.1 66.7,391.1 67.8,391.1 69.0,391.1 70.1,391.1 71.3,391.1 72.5,391.1 73.6,391.1 74.8,391.1 76.0,391.1 77.1,391.1 78.3,391.1 79.5,391.1 80.6,391.1 81.8,391.1 83.0,391.1 84.1,391.1 85.3,391.1 86.5,391.1 87.6,391.1 88.8,391.0 90.0,391.0 91.1,391.0 92.3,391.0 93.5,390.9 94.6,390.9 95.8,390.8 97.0,390.7 98.1,390.6 99.3,390.5 100.5,390.4 101.6,390.2 102.8,390.0 104.0,389.8 105.1,389.6 106.3,389.3 107.4,389.0 108.6,388.6 109.8,388.2 110.9,387.7 112.1,387.1 113.3,386.5 114.4,385.8 115.6,385.1 116.8,384.2 117.9,383.3 119.1,382.2 120.3,381.1 121.4,379.8 122.6,378.4 123.8,376.9 124.9,375.3 126.1,373.5 127.3,371.6 128.4,369.6 129.6,367.4 130.8,365.0 131.9,362.5 133.1,359.8 134.3,357.0 135.4,354.1 136.6,351.0 137.8,347.8 138.9,344.4 140.1,340.9 141.3,337.3 142.4,333.6 143.6,329.8 144.8,325.9 145.9,322.0 147.1,318.1 148.2,314.1 149.4,310.1 150.6,306.2 151.7,302.3 152.9,298.5 154.1,294.7 155.2,291.1 156.4,287.6 157.6,284.3 158.7,281.2 159.9,278.3 161.1,275.7 162.2,273.3 163.4,271.1 164.6,269.3 165.7,267.7 166.9,266.5 168.1,265.6 169.2,265.0 170.4,264.8 171.6,264.9 172.7,265.4 173.9,266.2 175.1,267.3 176.2,268.8 177.4,270.6 178.6,272.6 179.7,275.0 180.9,277.7 182.1,280.6 183.2,283.7 184.4,287.0 185.6,290.5 186.7,294.2 187.9,298.0 189.0,302.0 190.2,306.0 191.4,310.1 192.5,314.2 193.7,318.4 194.9,322.6 196.0,326.7 197.2,330.8 198.4,334.8 199.5,338.8 200.7,342.6 201.9,346.4 203.0,350.0 204.2,353.6 205.4,356.9 206.5,360.2 207.7,363.2 208.9,366.2 210.0,369.0 211.2,371.6 212.4,374.0 213.5,376.3 214.7,378.5 215.9,380.5 217.0,382.4 218.2,384.1 219.4,385.7 220.5,387.1 221.7,388.5 222.9,389.7 224.0,390.8 225.2,391.8 226.3,392.7 227.5,393.6 228.7,394.3 229.8,395.0 231.0,395.6 232.2,396.1 233.3,396.6 234.5,397.0 235.7,397.4 236.8,397.7 238.0,398.0 239.2,398.2 240.3,398.4 241.5,398.6 242.7,398.8 243.8,398.9 245.0,399.1" fill="none" stroke="#c46cd8" stroke-width="1.1"/>
<polygon points="48.0,390.8 49.2,390.8 50.3,390.7 51.5,390.7 52.7,390.7 53.8,390.6 55.0,390.6 56.2,390.5 57.3,390.4 58.5,390.4 59.7,390.3 60.8,390.2 62.0,390.1 63.2,390.0 64.3,389.9 65.5,389.8 66.7,389.7 67.8,389.6 69.0,389.4 70.1,389.3 71.3,389.1 72.5,389.0 73.6,388.8 74.8,388.6 76.0,388.4 77.1,388.1 78.3,387.9 79.5,387.6 80.6,387.3 81.8,387.1 83.0,386.8 84.1,386.4 85.3,386.1 86.5,385.7 87.6,385.4 88.8,385.0 90.0,384.6 91.1,384.1 92.3,383.7 93.5,383.2 94.6,382.8 95.8,382.3 97.0,381.8 98.1,381.3 99.3,380.7 100.5,380.2 101.6,379.6 102.8,379.1 104.0,378.5 105.1,377.9 106.3,377.3 107.4,376.7 108.6,376.1 109.8,375.5 110.9,374.9 112.1,374.4 113.3,373.8 114.4,373.2 115.6,372.6 116.8,372.1 117.9,371.5 119.1,371.0 120.3,370.5 121.4,370.0 122.6,369.5 123.8,369.1 124.9,368.6 126.1,368.2 127.3,367.9 128.4,367.5 129.6,367.3 130.8,367.0 131.9,366.8 133.1,366.6 134.3,366.4 135.4,366.3 136.6,366.3 137.8,366.2 138.9,366.3 140.1,366.3 141.3,366.4 142.4,366.6 143.6,366.8 144.8,367.0 145.9,367.3 147.1,367.6 148.2,368.0 149.4,368.4 150.6,368.8 151.7,369.3 152.9,369.8 154.1,370.3 155.2,370.9 156.4,371.5 157.6,372.1 158.7,372.8 159.9,373.5 161.1,374.1 162.2,374.9 163.4,375.6 164.6,376.3 165.7,377.1 166.9,377.8 168.1,378.6 169.2,379.4 170.4,380.2 171.6,380.9 172.7,381.7 173.9,382.5 175.1,383.2 176.2,384.0 177.4,384.7 178.6,385.4 179.7,386.1 180.9,386.8 182.1,387.5 183.2,388.2 184.4,388.8 185.6,389.4 186.7,390.0 187.9,390.6 189.0,391.2 190.2,391.7 191.4,392.2 192.5,392.7 193.7,393.2 194.9,393.7 196.0,394.1 197.2,394.5 198.4,394.9 199.5,395.2 200.7,395.6 201.9,395.9 203.0,396.2 204.2,396.5 205.4,396.8 206.5,397.0 207.7,397.2 208.9,397.5 210.0,397.7 211.2,397.8 212.4,398.0 213.5,398.2 214.7,398.3 215.9,398.5 217.0,398.6 218.2,398.7 219.4,398.8 220.5,398.9 221.7,399.0 222.9,399.1 224.0,399.1 225.2,399.2 226.3,399.3 227.5,399.3 228.7,399.4 229.8,399.4 231.0,399.4 232.2,399.5 233.3,399.5 234.5,399.5 235.7,399.6 236.8,399.6 238.0,399.6 239.2,399.6 240.3,399.6 241.5,399.7 242.7,399.7 243.8,399.7 245.0,399.7 245.0,399.7 243.8,399.7 242.7,399.7 241.5,399.7 240.3,399.7 239.2,399.7 238.0,399.7 236.8,399.7 235.7,399.7 234.5,399.7 233.3,399.7 232.2,399.7 231.0,399.7 229.8,399.7 228.7,399.7 227.5,399.7 226.3,399.7 225.2,399.7 224.0,399.7 222.9,399.7 221.7,399.7 220.5,399.6 219.4,399.6 218.2,399.6 217.0,399.6 215.9,399.6 214.7,399.6 213.5,399.5 212.4,399.5 211.2,399.5 210.0,399.5 208.9,399.4 207.7,399.4 206.5,399.3 205.4,399.3 204.2,399.3 203.0,399.2 201.9,399.2 200.7,399.1 199.5,399.0 198.4,399.0 197.2,398.9 196.0,398.8 194.9,398.8 193.7,398.7 192.5,398.6 191.4,398.5 190.2,398.4 189.0,398.3 187.9,398.2 186.7,398.1 185.6,398.0 184.4,397.9 183.2,397.8 182.1,397.7 180.9,397.5 179.7,397.4 178.6,397.3 177.4,397.1 176.2,397.0 175.1,396.9 173.9,396.7 172.7,396.6 171.6,396.5 170.4,396.3 169.2,396.2 168.1,396.0 166.9,395.9 165.7,395.8 164.6,395.6 163.4,395.5 162.2,395.3 161.1,395.2 159.9,395.1 158.7,394.9 157.6,394.8 156.4,394.7 155.2,394.6 154.1,394.4 152.9,394.3 151.7,394.2 150.6,394.1 149.4,394.0 148.2,393.9 147.1,393.8 145.9,393.7 144.8,393.6 143.6,393.5 142.4,393.4 141.3,393.3 140.1,393.2 138.9,393.1 137.8,393.0 136.6,393.0 135.4,392.9 134.3,392.8 133.1,392.7 131.9,392.7 130.8,392.6 129.6,392.5 128.4,392.5 127.3,392.4 126.1,392.4 124.9,392.3 123.8,392.3 122.6,392.2 121.4,392.2 120.3,392.1 119.1,392.1 117.9,392.0 116.8,392.0 115.6,391.9 114.4,391.9 113.3,391.8 112.1,391.8 110.9,391.8 109.8,391.7 108.6,391.7 107.4,391.6 106.3,391.6 105.1,391.6 104.0,391.5 102.8,391.5 101.6,391.5 100.5,391.5 99.3,391.4 98.1,391.4 97.0,391.4 95.8,391.4 94.6,391.3 93.5,391.3 92.3,391.3 91.1,391.3 90.0,391.3 88.8,391.2 87.6,391.2 86.5,391.2 85.3,391.2 84.1,391.2 83.0,391.2 81.8,391.2 80.6,391.2 79.5,391.1 78.3,391.1 77.1,391.1 76.0,391.1 74.8,391.1 73.6,391.1 72.5,391.1 71.3,391.1 70.1,391.1 69.0,391.1 67.8,391.1 66.7,391.1 65.5,391.1 64.3,391.1 63.2,391.1 62.0,391.1 60.8,391.1 59.7,391.1 58.5,391.1 57.3,391.1 56.2,391.1 55.0,391.0 53.8,391.0 52.7,391.0 51.5,391.0 50.3,391.0 49.2,391.0 48.0,391.0" fill="rgba(170,240,252,0.72)"/>
<polyline points="48.0,390.8 49.2,390.8 50.3,390.7 51.5,390.7 52.7,390.7 53.8,390.6 55.0,390.6 56.2,390.5 57.3,390.4 58.5,390.4 59.7,390.3 60.8,390.2 62.0,390.1 63.2,390.0 64.3,389.9 65.5,389.8 66.7,389.7 67.8,389.6 69.0,389.4 70.1,389.3 71.3,389.1 72.5,389.0 73.6,388.8 74.8,388.6 76.0,388.4 77.1,388.1 78.3,387.9 79.5,387.6 80.6,387.3 81.8,387.1 83.0,386.8 84.1,386.4 85.3,386.1 86.5,385.7 87.6,385.4 88.8,385.0 90.0,384.6 91.1,384.1 92.3,383.7 93.5,383.2 94.6,382.8 95.8,382.3 97.0,381.8 98.1,381.3 99.3,380.7 100.5,380.2 101.6,379.6 102.8,379.1 104.0,378.5 105.1,377.9 106.3,377.3 107.4,376.7 108.6,376.1 109.8,375.5 110.9,374.9 112.1,374.4 113.3,373.8 114.4,373.2 115.6,372.6 116.8,372.1 117.9,371.5 119.1,371.0 120.3,370.5 121.4,370.0 122.6,369.5 123.8,369.1 124.9,368.6 126.1,368.2 127.3,367.9 128.4,367.5 129.6,367.3 130.8,367.0 131.9,366.8 133.1,366.6 134.3,366.4 135.4,366.3 136.6,366.3 137.8,366.2 138.9,366.3 140.1,366.3 141.3,366.4 142.4,366.6 143.6,366.8 144.8,367.0 145.9,367.3 147.1,367.6 148.2,368.0 149.4,368.4 150.6,368.8 151.7,369.3 152.9,369.8 154.1,370.3 155.2,370.9 156.4,371.5 157.6,372.1 158.7,372.8 159.9,373.5 161.1,374.1 162.2,374.9 163.4,375.6 164.6,376.3 165.7,377.1 166.9,377.8 168.1,378.6 169.2,379.4 170.4,380.2 171.6,380.9 172.7,381.7 173.9,382.5 175.1,383.2 176.2,384.0 177.4,384.7 178.6,385.4 179.7,386.1 180.9,386.8 182.1,387.5 183.2,388.2 184.4,388.8 185.6,389.4 186.7,390.0 187.9,390.6 189.0,391.2 190.2,391.7 191.4,392.2 192.5,392.7 193.7,393.2 194.9,393.7 196.0,394.1 197.2,394.5 198.4,394.9 199.5,395.2 200.7,395.6 201.9,395.9 203.0,396.2 204.2,396.5 205.4,396.8 206.5,397.0 207.7,397.2 208.9,397.5 210.0,397.7 211.2,397.8 212.4,398.0 213.5,398.2 214.7,398.3 215.9,398.5 217.0,398.6 218.2,398.7 219.4,398.8 220.5,398.9 221.7,399.0 222.9,399.1 224.0,399.1 225.2,399.2 226.3,399.3 227.5,399.3 228.7,399.4 229.8,399.4 231.0,399.4 232.2,399.5 233.3,399.5 234.5,399.5 235.7,399.6 236.8,399.6 238.0,399.6 239.2,399.6 240.3,399.6 241.5,399.7 242.7,399.7 243.8,399.7 245.0,399.7" fill="none" stroke="#5adde6" stroke-width="1.1"/>
<polygon points="48.0,390.5 49.2,390.5 50.3,390.4 51.5,390.3 52.7,390.2 53.8,390.1 55.0,390.0 56.2,389.9 57.3,389.7 58.5,389.6 59.7,389.4 60.8,389.2 62.0,389.1 63.2,388.8 64.3,388.6 65.5,388.4 66.7,388.1 67.8,387.8 69.0,387.5 70.1,387.2 71.3,386.9 72.5,386.5 73.6,386.2 74.8,385.8 76.0,385.4 77.1,384.9 78.3,384.5 79.5,384.0 80.6,383.5 81.8,383.0 83.0,382.5 84.1,382.0 85.3,381.4 86.5,380.9 87.6,380.3 88.8,379.8 90.0,379.2 91.1,378.6 92.3,378.0 93.5,377.5 94.6,376.9 95.8,376.4 97.0,375.8 98.1,375.3 99.3,374.8 100.5,374.3 101.6,373.9 102.8,373.4 104.0,373.0 105.1,372.7 106.3,372.3 107.4,372.0 108.6,371.8 109.8,371.5 110.9,371.4 112.1,371.2 113.3,371.1 114.4,371.1 115.6,371.1 116.8,371.2 117.9,371.3 119.1,371.4 120.3,371.6 121.4,371.8 122.6,372.1 123.8,372.4 124.9,372.8 126.1,373.2 127.3,373.6 128.4,374.1 129.6,374.6 130.8,375.1 131.9,375.7 133.1,376.3 134.3,376.9 135.4,377.5 136.6,378.1 137.8,378.8 138.9,379.4 140.1,380.1 141.3,380.8 142.4,381.5 143.6,382.1 144.8,382.8 145.9,383.5 147.1,384.2 148.2,384.8 149.4,385.5 150.6,386.1 151.7,386.7 152.9,387.3 154.1,387.9 155.2,388.5 156.4,389.0 157.6,389.6 158.7,390.1 159.9,390.6 161.1,391.1 162.2,391.6 163.4,392.0 164.6,392.5 165.7,392.9 166.9,393.3 168.1,393.7 169.2,394.0 170.4,394.4 171.6,394.7 172.7,395.0 173.9,395.3 175.1,395.6 176.2,395.9 177.4,396.1 178.6,396.4 179.7,396.6 180.9,396.8 182.1,397.0 183.2,397.2 184.4,397.4 185.6,397.6 186.7,397.7 187.9,397.9 189.0,398.0 190.2,398.2 191.4,398.3 192.5,398.4 193.7,398.5 194.9,398.6 196.0,398.7 197.2,398.8 198.4,398.9 199.5,399.0 200.7,399.0 201.9,399.1 203.0,399.2 204.2,399.2 205.4,399.3 206.5,399.3 207.7,399.4 208.9,399.4 210.0,399.4 211.2,399.5 212.4,399.5 213.5,399.5 214.7,399.6 215.9,399.6 217.0,399.6 218.2,399.6 219.4,399.6 220.5,399.6 221.7,399.7 222.9,399.7 224.0,399.7 225.2,399.7 226.3,399.7 227.5,399.7 228.7,399.7 229.8,399.7 231.0,399.7 232.2,399.7 233.3,399.7 234.5,399.7 235.7,399.7 236.8,399.7 238.0,399.7 239.2,399.7 240.3,399.7 241.5,399.7 242.7,399.7 243.8,399.7 245.0,399.7 245.0,399.7 243.8,399.7 242.7,399.7 241.5,399.7 240.3,399.7 239.2,399.7 238.0,399.7 236.8,399.7 235.7,399.7 234.5,399.7 233.3,399.7 232.2,399.7 231.0,399.7 229.8,399.7 228.7,399.7 227.5,399.7 226.3,399.7 225.2,399.7 224.0,399.7 222.9,399.7 221.7,399.7 220.5,399.6 219.4,399.6 218.2,399.6 217.0,399.6 215.9,399.6 214.7,399.6 213.5,399.5 212.4,399.5 211.2,399.5 210.0,399.5 208.9,399.4 207.7,399.4 206.5,399.3 205.4,399.3 204.2,399.3 203.0,399.2 201.9,399.2 200.7,399.1 199.5,399.0 198.4,399.0 197.2,398.9 196.0,398.8 194.9,398.8 193.7,398.7 192.5,398.6 191.4,398.5 190.2,398.4 189.0,398.3 187.9,398.2 186.7,398.1 185.6,398.0 184.4,397.9 183.2,397.8 182.1,397.7 180.9,397.5 179.7,397.4 178.6,397.3 177.4,397.1 176.2,397.0 175.1,396.9 173.9,396.7 172.7,396.6 171.6,396.5 170.4,396.3 169.2,396.2 168.1,396.0 166.9,395.9 165.7,395.8 164.6,395.6 163.4,395.5 162.2,395.3 161.1,395.2 159.9,395.1 158.7,394.9 157.6,394.8 156.4,394.7 155.2,394.6 154.1,394.4 152.9,394.3 151.7,394.2 150.6,394.1 149.4,394.0 148.2,393.9 147.1,393.8 145.9,393.7 144.8,393.6 143.6,393.5 142.4,393.4 141.3,393.3 140.1,393.2 138.9,393.1 137.8,393.0 136.6,393.0 135.4,392.9 134.3,392.8 133.1,392.7 131.9,392.7 130.8,392.6 129.6,392.5 128.4,392.5 127.3,392.4 126.1,392.4 124.9,392.3 123.8,392.3 122.6,392.2 121.4,392.2 120.3,392.1 119.1,392.1 117.9,392.0 116.8,392.0 115.6,391.9 114.4,391.9 113.3,391.8 112.1,391.8 110.9,391.8 109.8,391.7 108.6,391.7 107.4,391.6 106.3,391.6 105.1,391.6 104.0,391.5 102.8,391.5 101.6,391.5 100.5,391.5 99.3,391.4 98.1,391.4 97.0,391.4 95.8,391.4 94.6,391.3 93.5,391.3 92.3,391.3 91.1,391.3 90.0,391.3 88.8,391.2 87.6,391.2 86.5,391.2 85.3,391.2 84.1,391.2 83.0,391.2 81.8,391.2 80.6,391.2 79.5,391.1 78.3,391.1 77.1,391.1 76.0,391.1 74.8,391.1 73.6,391.1 72.5,391.1 71.3,391.1 70.1,391.1 69.0,391.1 67.8,391.1 66.7,391.1 65.5,391.1 64.3,391.1 63.2,391.1 62.0,391.1 60.8,391.1 59.7,391.1 58.5,391.1 57.3,391.1 56.2,391.1 55.0,391.0 53.8,391.0 52.7,391.0 51.5,391.0 50.3,391.0 49.2,391.0 48.0,391.0" fill="rgba(246,246,196,0.84)"/>
<polyline points="48.0,390.5 49.2,390.5 50.3,390.4 51.5,390.3 52.7,390.2 53.8,390.1 55.0,390.0 56.2,389.9 57.3,389.7 58.5,389.6 59.7,389.4 60.8,389.2 62.0,389.1 63.2,388.8 64.3,388.6 65.5,388.4 66.7,388.1 67.8,387.8 69.0,387.5 70.1,387.2 71.3,386.9 72.5,386.5 73.6,386.2 74.8,385.8 76.0,385.4 77.1,384.9 78.3,384.5 79.5,384.0 80.6,383.5 81.8,383.0 83.0,382.5 84.1,382.0 85.3,381.4 86.5,380.9 87.6,380.3 88.8,379.8 90.0,379.2 91.1,378.6 92.3,378.0 93.5,377.5 94.6,376.9 95.8,376.4 97.0,375.8 98.1,375.3 99.3,374.8 100.5,374.3 101.6,373.9 102.8,373.4 104.0,373.0 105.1,372.7 106.3,372.3 107.4,372.0 108.6,371.8 109.8,371.5 110.9,371.4 112.1,371.2 113.3,371.1 114.4,371.1 115.6,371.1 116.8,371.2 117.9,371.3 119.1,371.4 120.3,371.6 121.4,371.8 122.6,372.1 123.8,372.4 124.9,372.8 126.1,373.2 127.3,373.6 128.4,374.1 129.6,374.6 130.8,375.1 131.9,375.7 133.1,376.3 134.3,376.9 135.4,377.5 136.6,378.1 137.8,378.8 138.9,379.4 140.1,380.1 141.3,380.8 142.4,381.5 143.6,382.1 144.8,382.8 145.9,383.5 147.1,384.2 148.2,384.8 149.4,385.5 150.6,386.1 151.7,386.7 152.9,387.3 154.1,387.9 155.2,388.5 156.4,389.0 157.6,389.6 158.7,390.1 159.9,390.6 161.1,391.1 162.2,391.6 163.4,392.0 164.6,392.5 165.7,392.9 166.9,393.3 168.1,393.7 169.2,394.0 170.4,394.4 171.6,394.7 172.7,395.0 173.9,395.3 175.1,395.6 176.2,395.9 177.4,396.1 178.6,396.4 179.7,396.6 180.9,396.8 182.1,397.0 183.2,397.2 184.4,397.4 185.6,397.6 186.7,397.7 187.9,397.9 189.0,398.0 190.2,398.2 191.4,398.3 192.5,398.4 193.7,398.5 194.9,398.6 196.0,398.7 197.2,398.8 198.4,398.9 199.5,399.0 200.7,399.0 201.9,399.1 203.0,399.2 204.2,399.2 205.4,399.3 206.5,399.3 207.7,399.4 208.9,399.4 210.0,399.4 211.2,399.5 212.4,399.5 213.5,399.5 214.7,399.6 215.9,399.6 217.0,399.6 218.2,399.6 219.4,399.6 220.5,399.6 221.7,399.7 222.9,399.7 224.0,399.7 225.2,399.7 226.3,399.7 227.5,399.7 228.7,399.7 229.8,399.7 231.0,399.7 232.2,399.7 233.3,399.7 234.5,399.7 235.7,399.7 236.8,399.7 238.0,399.7 239.2,399.7 240.3,399.7 241.5,399.7 242.7,399.7 243.8,399.7 245.0,399.7" fill="none" stroke="#e2dc8c" stroke-width="1.1"/>
<polyline points="48.0,391.0 49.2,391.0 50.3,391.0 51.5,391.0 52.7,391.0 53.8,391.0 55.0,391.0 56.2,391.1 57.3,391.1 58.5,391.1 59.7,391.1 60.8,391.1 62.0,391.1 63.2,391.1 64.3,391.1 65.5,391.1 66.7,391.1 67.8,391.1 69.0,391.1 70.1,391.1 71.3,391.1 72.5,391.1 73.6,391.1 74.8,391.1 76.0,391.1 77.1,391.1 78.3,391.1 79.5,391.1 80.6,391.2 81.8,391.2 83.0,391.2 84.1,391.2 85.3,391.2 86.5,391.2 87.6,391.2 88.8,391.2 90.0,391.3 91.1,391.3 92.3,391.3 93.5,391.3 94.6,391.3 95.8,391.4 97.0,391.4 98.1,391.4 99.3,391.4 100.5,391.5 101.6,391.5 102.8,391.5 104.0,391.5 105.1,391.6 106.3,391.6 107.4,391.6 108.6,391.7 109.8,391.7 110.9,391.8 112.1,391.8 113.3,391.8 114.4,391.9 115.6,391.9 116.8,392.0 117.9,392.0 119.1,392.1 120.3,392.1 121.4,392.2 122.6,392.2 123.8,392.3 124.9,392.3 126.1,392.4 127.3,392.4 128.4,392.5 129.6,392.5 130.8,392.6 131.9,392.7 133.1,392.7 134.3,392.8 135.4,392.9 136.6,393.0 137.8,393.0 138.9,393.1 140.1,393.2 141.3,393.3 142.4,393.4 143.6,393.5 144.8,393.6 145.9,393.7 147.1,393.8 148.2,393.9 149.4,394.0 150.6,394.1 151.7,394.2 152.9,394.3 154.1,394.4 155.2,394.6 156.4,394.7 157.6,394.8 158.7,394.9 159.9,395.1 161.1,395.2 162.2,395.3 163.4,395.5 164.6,395.6 165.7,395.8 166.9,395.9 168.1,396.0 169.2,396.2 170.4,396.3 171.6,396.5 172.7,396.6 173.9,396.7 175.1,396.9 176.2,397.0 177.4,397.1 178.6,397.3 179.7,397.4 180.9,397.5 182.1,397.7 183.2,397.8 184.4,397.9 185.6,398.0 186.7,398.1 187.9,398.2 189.0,398.3 190.2,398.4 191.4,398.5 192.5,398.6 193.7,398.7 194.9,398.8 196.0,398.8 197.2,398.9 198.4,399.0 199.5,399.0 200.7,399.1 201.9,399.2 203.0,399.2 204.2,399.3 205.4,399.3 206.5,399.3 207.7,399.4 208.9,399.4 210.0,399.5 211.2,399.5 212.4,399.5 213.5,399.5 214.7,399.6 215.9,399.6 217.0,399.6 218.2,399.6 219.4,399.6 220.5,399.6 221.7,399.7 222.9,399.7 224.0,399.7 225.2,399.7 226.3,399.7 227.5,399.7 228.7,399.7 229.8,399.7 231.0,399.7 232.2,399.7 233.3,399.7 234.5,399.7 235.7,399.7 236.8,399.7 238.0,399.7 239.2,399.7 240.3,399.7 241.5,399.7 242.7,399.7 243.8,399.7 245.0,399.7" fill="none" stroke="#88e39a" stroke-width="1.4"/>
<polyline points="48.0,390.3 49.2,390.2 50.3,390.1 51.5,389.9 52.7,389.8 53.8,389.7 55.0,389.5 56.2,389.3 57.3,389.1 58.5,388.9 59.7,388.7 60.8,388.4 62.0,388.1 63.2,387.8 64.3,387.5 65.5,387.1 66.7,386.7 67.8,386.3 69.0,385.9 70.1,385.4 71.3,384.9 72.5,384.4 73.6,383.8 74.8,383.2 76.0,382.6 77.1,381.9 78.3,381.2 79.5,380.4 80.6,379.7 81.8,378.8 83.0,378.0 84.1,377.1 85.3,376.2 86.5,375.3 87.6,374.3 88.8,373.3 90.0,372.2 91.1,371.2 92.3,370.1 93.5,369.0 94.6,367.9 95.8,366.7 97.0,365.6 98.1,364.4 99.3,363.2 100.5,362.0 101.6,360.7 102.8,359.5 104.0,358.2 105.1,357.0 106.3,355.7 107.4,354.4 108.6,353.1 109.8,351.8 110.9,350.5 112.1,349.1 113.3,347.8 114.4,346.4 115.6,345.0 116.8,343.5 117.9,342.0 119.1,340.5 120.3,338.9 121.4,337.3 122.6,335.6 123.8,333.9 124.9,332.1 126.1,330.2 127.3,328.3 128.4,326.2 129.6,324.1 130.8,321.9 131.9,319.6 133.1,317.2 134.3,314.7 135.4,312.1 136.6,309.4 137.8,306.7 138.9,303.8 140.1,300.9 141.3,297.9 142.4,294.9 143.6,291.8 144.8,288.6 145.9,285.5 147.1,282.3 148.2,279.1 149.4,276.0 150.6,272.9 151.7,269.9 152.9,266.9 154.1,264.1 155.2,261.4 156.4,258.8 157.6,256.4 158.7,254.2 159.9,252.2 161.1,250.5 162.2,249.0 163.4,247.8 164.6,246.8 165.7,246.2 166.9,245.8 168.1,245.8 169.2,246.1 170.4,246.7 171.6,247.6 172.7,248.9 173.9,250.5 175.1,252.4 176.2,254.6 177.4,257.1 178.6,259.9 179.7,262.9 180.9,266.2 182.1,269.8 183.2,273.5 184.4,277.4 185.6,281.5 186.7,285.8 187.9,290.1 189.0,294.6 190.2,299.1 191.4,303.6 192.5,308.2 193.7,312.8 194.9,317.3 196.0,321.8 197.2,326.3 198.4,330.6 199.5,334.9 200.7,339.1 201.9,343.1 203.0,347.0 204.2,350.8 205.4,354.4 206.5,357.8 207.7,361.1 208.9,364.2 210.0,367.1 211.2,369.9 212.4,372.5 213.5,375.0 214.7,377.3 215.9,379.4 217.0,381.4 218.2,383.2 219.4,384.9 220.5,386.4 221.7,387.8 222.9,389.1 224.0,390.3 225.2,391.3 226.3,392.3 227.5,393.2 228.7,394.0 229.8,394.7 231.0,395.3 232.2,395.9 233.3,396.4 234.5,396.8 235.7,397.2 236.8,397.5 238.0,397.8 239.2,398.1 240.3,398.3 241.5,398.5 242.7,398.7 243.8,398.9 245.0,399.0" fill="none" stroke="#b3222a" stroke-width="1.6"/>
<g fill="none" stroke="#707070" stroke-width="0.85"><circle cx="31.9" cy="392.4" r="2.7"/><circle cx="34.9" cy="391.3" r="2.7"/><circle cx="37.8" cy="388.6" r="2.7"/><circle cx="40.8" cy="392.6" r="2.7"/><circle cx="43.8" cy="392.7" r="2.7"/><circle cx="46.8" cy="390.3" r="2.7"/><circle cx="49.8" cy="389.8" r="2.7"/><circle cx="52.8" cy="389.6" r="2.7"/><circle cx="55.8" cy="388.4" r="2.7"/><circle cx="58.7" cy="390.0" r="2.7"/><circle cx="61.7" cy="387.6" r="2.7"/><circle cx="64.7" cy="387.3" r="2.7"/><circle cx="67.7" cy="385.6" r="2.7"/><circle cx="70.7" cy="384.6" r="2.7"/><circle cx="73.7" cy="382.5" r="2.7"/><circle cx="76.6" cy="383.4" r="2.7"/><circle cx="79.6" cy="380.2" r="2.7"/><circle cx="82.6" cy="379.2" r="2.7"/><circle cx="85.6" cy="376.0" r="2.7"/><circle cx="88.6" cy="372.8" r="2.7"/><circle cx="91.6" cy="370.5" r="2.7"/><circle cx="94.5" cy="367.4" r="2.7"/><circle cx="97.5" cy="365.0" r="2.7"/><circle cx="100.5" cy="361.5" r="2.7"/><circle cx="103.5" cy="358.4" r="2.7"/><circle cx="106.5" cy="354.1" r="2.7"/><circle cx="109.5" cy="351.4" r="2.7"/><circle cx="112.4" cy="350.4" r="2.7"/><circle cx="115.4" cy="344.5" r="2.7"/><circle cx="118.4" cy="340.4" r="2.7"/><circle cx="121.4" cy="337.7" r="2.7"/><circle cx="124.4" cy="334.4" r="2.7"/><circle cx="127.4" cy="326.6" r="2.7"/><circle cx="130.3" cy="322.5" r="2.7"/><circle cx="133.3" cy="316.1" r="2.7"/><circle cx="136.3" cy="308.3" r="2.7"/><circle cx="139.3" cy="303.6" r="2.7"/><circle cx="142.3" cy="295.2" r="2.7"/><circle cx="145.3" cy="287.3" r="2.7"/><circle cx="148.2" cy="278.4" r="2.7"/><circle cx="151.2" cy="271.7" r="2.7"/><circle cx="154.2" cy="263.2" r="2.7"/><circle cx="157.2" cy="257.1" r="2.7"/><circle cx="160.2" cy="250.7" r="2.7"/><circle cx="163.2" cy="246.8" r="2.7"/><circle cx="166.1" cy="247.4" r="2.7"/><circle cx="169.1" cy="245.5" r="2.7"/><circle cx="172.1" cy="248.5" r="2.7"/><circle cx="175.1" cy="252.4" r="2.7"/><circle cx="178.1" cy="258.3" r="2.7"/><circle cx="181.1" cy="266.3" r="2.7"/><circle cx="184.1" cy="277.0" r="2.7"/><circle cx="187.0" cy="286.7" r="2.7"/><circle cx="190.0" cy="298.2" r="2.7"/><circle cx="193.0" cy="310.0" r="2.7"/><circle cx="196.0" cy="322.8" r="2.7"/><circle cx="199.0" cy="333.5" r="2.7"/><circle cx="202.0" cy="343.8" r="2.7"/><circle cx="204.9" cy="352.5" r="2.7"/><circle cx="207.9" cy="360.3" r="2.7"/><circle cx="210.9" cy="370.2" r="2.7"/><circle cx="213.9" cy="376.7" r="2.7"/><circle cx="216.9" cy="381.0" r="2.7"/><circle cx="219.9" cy="386.1" r="2.7"/><circle cx="222.8" cy="389.9" r="2.7"/><circle cx="225.8" cy="392.7" r="2.7"/><circle cx="228.8" cy="395.0" r="2.7"/><circle cx="231.8" cy="395.2" r="2.7"/><circle cx="234.8" cy="398.4" r="2.7"/><circle cx="237.8" cy="396.5" r="2.7"/><circle cx="240.7" cy="399.3" r="2.7"/><circle cx="243.7" cy="399.3" r="2.7"/><circle cx="246.7" cy="400.4" r="2.7"/><circle cx="249.7" cy="402.1" r="2.7"/><circle cx="252.7" cy="401.7" r="2.7"/><circle cx="255.7" cy="398.0" r="2.7"/><circle cx="258.6" cy="397.4" r="2.7"/><circle cx="261.6" cy="401.4" r="2.7"/><circle cx="264.6" cy="398.8" r="2.7"/></g>
<rect x="28.3" y="231" width="238.7" height="181.8" fill="none" stroke="#161616" stroke-width="1.8"/>
<path d="M58.1 412.8v-3.2M58.1 231v3.2" stroke="#161616" stroke-width="1.4"/>
<text x="58.1" y="425" font-family="Liberation Serif" font-weight="bold" font-size="10.5" text-anchor="middle" fill="#161616">534</text>
<path d="M117.8 412.8v-3.2M117.8 231v3.2" stroke="#161616" stroke-width="1.4"/>
<text x="117.8" y="425" font-family="Liberation Serif" font-weight="bold" font-size="10.5" text-anchor="middle" fill="#161616">532</text>
<path d="M177.5 412.8v-3.2M177.5 231v3.2" stroke="#161616" stroke-width="1.4"/>
<text x="177.5" y="425" font-family="Liberation Serif" font-weight="bold" font-size="10.5" text-anchor="middle" fill="#161616">530</text>
<path d="M237.2 412.8v-3.2M237.2 231v3.2" stroke="#161616" stroke-width="1.4"/>
<text x="237.2" y="425" font-family="Liberation Serif" font-weight="bold" font-size="10.5" text-anchor="middle" fill="#161616">528</text>
<path d="M28.3 271.5h3.2M267 271.5h-3.2" stroke="#161616" stroke-width="1.4"/>
<path d="M28.3 320.0h3.2M267 320.0h-3.2" stroke="#161616" stroke-width="1.4"/>
<path d="M28.3 368.5h3.2M267 368.5h-3.2" stroke="#161616" stroke-width="1.4"/>
<text x="147.7" y="440.5" font-family="Liberation Serif" font-weight="bold" font-size="14.1" text-anchor="middle" fill="#161616">Binding energy (eV)</text>
<text transform="translate(20.6,321.9) rotate(-90)" font-family="Liberation Serif" font-weight="bold" font-size="14.1" text-anchor="middle" fill="#161616">Intensity (A.U.)</text>
<text x="32.5" y="248" font-family="Liberation Serif" font-weight="bold" font-size="14.5" fill="#161616">(c)</text>
<text x="262" y="248.2" font-family="Liberation Serif" font-weight="bold" font-size="14.5" text-anchor="end" fill="#161616">O 1s</text>
<text x="159.7" y="325.5" font-family="Liberation Serif" font-weight="bold" font-size="10.5" fill="#c13fd6">Hf-O</text><text x="159.7" y="339.0" font-family="Liberation Serif" font-weight="bold" font-size="10.5" fill="#c13fd6">69%</text>
<text x="102.7" y="379.1" font-family="Liberation Serif" font-weight="bold" font-size="10.5" fill="#9a9030">-OH</text><text x="102.7" y="391.8" font-family="Liberation Serif" font-weight="bold" font-size="10.5" fill="#9a9030">12%</text>
<text x="141.4" y="374.5" font-family="Liberation Serif" font-weight="bold" font-size="10.5" fill="#137f7f">V<tspan font-size="7.5" dx="0.4">o</tspan></text><text x="141.4" y="388.0" font-family="Liberation Serif" font-weight="bold" font-size="10.5" fill="#137f7f">19%</text>
<polygon points="310.5,391.9 311.7,391.9 312.9,391.9 314.1,391.9 315.4,391.9 316.6,391.9 317.8,391.9 319.0,391.9 320.2,391.9 321.4,391.9 322.6,391.9 323.8,391.9 325.1,391.9 326.3,391.9 327.5,391.9 328.7,391.9 329.9,391.9 331.1,391.8 332.3,391.8 333.5,391.8 334.8,391.8 336.0,391.8 337.2,391.8 338.4,391.8 339.6,391.8 340.8,391.8 342.0,391.8 343.3,391.8 344.5,391.8 345.7,391.8 346.9,391.8 348.1,391.8 349.3,391.8 350.5,391.8 351.7,391.8 353.0,391.8 354.2,391.8 355.4,391.8 356.6,391.8 357.8,391.8 359.0,391.8 360.2,391.8 361.4,391.8 362.7,391.8 363.9,391.7 365.1,391.7 366.3,391.7 367.5,391.7 368.7,391.6 369.9,391.6 371.2,391.5 372.4,391.4 373.6,391.3 374.8,391.2 376.0,391.1 377.2,390.9 378.4,390.8 379.6,390.6 380.9,390.3 382.1,390.0 383.3,389.7 384.5,389.3 385.7,388.9 386.9,388.4 388.1,387.9 389.3,387.3 390.6,386.5 391.8,385.8 393.0,384.9 394.2,383.9 395.4,382.8 396.6,381.6 397.8,380.3 399.1,378.9 400.3,377.4 401.5,375.7 402.7,373.8 403.9,371.9 405.1,369.8 406.3,367.5 407.5,365.2 408.8,362.6 410.0,360.0 411.2,357.2 412.4,354.3 413.6,351.3 414.8,348.2 416.0,345.0 417.2,341.8 418.5,338.4 419.7,335.1 420.9,331.7 422.1,328.3 423.3,325.0 424.5,321.7 425.7,318.5 426.9,315.3 428.2,312.3 429.4,309.5 430.6,306.8 431.8,304.4 433.0,302.1 434.2,300.1 435.4,298.4 436.7,296.9 437.9,295.8 439.1,295.0 440.3,294.5 441.5,294.3 442.7,294.5 443.9,295.0 445.1,295.8 446.4,297.0 447.6,298.4 448.8,300.2 450.0,302.2 451.2,304.5 452.4,307.0 453.6,309.7 454.8,312.7 456.1,315.7 457.3,319.0 458.5,322.3 459.7,325.7 460.9,329.2 462.1,332.7 463.3,336.2 464.6,339.8 465.8,343.3 467.0,346.7 468.2,350.1 469.4,353.4 470.6,356.6 471.8,359.7 473.0,362.6 474.3,365.5 475.5,368.2 476.7,370.7 477.9,373.2 479.1,375.5 480.3,377.6 481.5,379.6 482.7,381.5 484.0,383.2 485.2,384.8 486.4,386.2 487.6,387.6 488.8,388.8 490.0,389.9 491.2,390.9 492.5,391.8 493.7,392.6 494.9,393.4 496.1,394.0 497.3,394.6 498.5,395.1 499.7,395.6 500.9,396.0 502.2,396.3 503.4,396.7 504.6,396.9 505.8,397.2 507.0,397.4 508.2,397.6 509.4,397.7 510.6,397.9 511.9,398.0 513.1,398.1 514.3,398.2 515.5,398.3 515.5,399.2 514.3,399.2 513.1,399.2 511.9,399.2 510.6,399.2 509.4,399.2 508.2,399.2 507.0,399.2 505.8,399.2 504.6,399.2 503.4,399.2 502.2,399.2 500.9,399.2 499.7,399.2 498.5,399.2 497.3,399.2 496.1,399.2 494.9,399.2 493.7,399.2 492.5,399.2 491.2,399.2 490.0,399.1 488.8,399.1 487.6,399.1 486.4,399.1 485.2,399.1 484.0,399.1 482.7,399.1 481.5,399.0 480.3,399.0 479.1,399.0 477.9,399.0 476.7,399.0 475.5,398.9 474.3,398.9 473.0,398.9 471.8,398.8 470.6,398.8 469.4,398.7 468.2,398.7 467.0,398.7 465.8,398.6 464.6,398.5 463.3,398.5 462.1,398.4 460.9,398.4 459.7,398.3 458.5,398.2 457.3,398.1 456.1,398.1 454.8,398.0 453.6,397.9 452.4,397.8 451.2,397.7 450.0,397.6 448.8,397.5 447.6,397.4 446.4,397.3 445.1,397.2 443.9,397.1 442.7,397.0 441.5,396.9 440.3,396.8 439.1,396.7 437.9,396.6 436.7,396.5 435.4,396.4 434.2,396.3 433.0,396.2 431.8,396.1 430.6,396.0 429.4,395.9 428.2,395.8 426.9,395.7 425.7,395.6 424.5,395.5 423.3,395.4 422.1,395.3 420.9,395.2 419.7,395.1 418.5,395.0 417.2,394.9 416.0,394.8 414.8,394.7 413.6,394.7 412.4,394.6 411.2,394.5 410.0,394.4 408.8,394.3 407.5,394.3 406.3,394.2 405.1,394.1 403.9,394.1 402.7,394.0 401.5,393.9 400.3,393.8 399.1,393.8 397.8,393.7 396.6,393.7 395.4,393.6 394.2,393.5 393.0,393.5 391.8,393.4 390.6,393.4 389.3,393.3 388.1,393.3 386.9,393.2 385.7,393.2 384.5,393.1 383.3,393.1 382.1,393.0 380.9,393.0 379.6,392.9 378.4,392.9 377.2,392.8 376.0,392.8 374.8,392.8 373.6,392.7 372.4,392.7 371.2,392.7 369.9,392.6 368.7,392.6 367.5,392.6 366.3,392.5 365.1,392.5 363.9,392.5 362.7,392.5 361.4,392.4 360.2,392.4 359.0,392.4 357.8,392.4 356.6,392.4 355.4,392.3 354.2,392.3 353.0,392.3 351.7,392.3 350.5,392.3 349.3,392.3 348.1,392.3 346.9,392.3 345.7,392.2 344.5,392.2 343.3,392.2 342.0,392.2 340.8,392.2 339.6,392.2 338.4,392.2 337.2,392.2 336.0,392.2 334.8,392.2 333.5,392.2 332.3,392.2 331.1,392.2 329.9,392.2 328.7,392.2 327.5,392.2 326.3,392.2 325.1,392.2 323.8,392.2 322.6,392.1 321.4,392.1 320.2,392.1 319.0,392.1 317.8,392.1 316.6,392.1 315.4,392.1 314.1,392.1 312.9,392.1 311.7,392.1 310.5,392.1" fill="#efc4fb"/>
<polyline points="310.5,391.9 311.7,391.9 312.9,391.9 314.1,391.9 315.4,391.9 316.6,391.9 317.8,391.9 319.0,391.9 320.2,391.9 321.4,391.9 322.6,391.9 323.8,391.9 325.1,391.9 326.3,391.9 327.5,391.9 328.7,391.9 329.9,391.9 331.1,391.8 332.3,391.8 333.5,391.8 334.8,391.8 336.0,391.8 337.2,391.8 338.4,391.8 339.6,391.8 340.8,391.8 342.0,391.8 343.3,391.8 344.5,391.8 345.7,391.8 346.9,391.8 348.1,391.8 349.3,391.8 350.5,391.8 351.7,391.8 353.0,391.8 354.2,391.8 355.4,391.8 356.6,391.8 357.8,391.8 359.0,391.8 360.2,391.8 361.4,391.8 362.7,391.8 363.9,391.7 365.1,391.7 366.3,391.7 367.5,391.7 368.7,391.6 369.9,391.6 371.2,391.5 372.4,391.4 373.6,391.3 374.8,391.2 376.0,391.1 377.2,390.9 378.4,390.8 379.6,390.6 380.9,390.3 382.1,390.0 383.3,389.7 384.5,389.3 385.7,388.9 386.9,388.4 388.1,387.9 389.3,387.3 390.6,386.5 391.8,385.8 393.0,384.9 394.2,383.9 395.4,382.8 396.6,381.6 397.8,380.3 399.1,378.9 400.3,377.4 401.5,375.7 402.7,373.8 403.9,371.9 405.1,369.8 406.3,367.5 407.5,365.2 408.8,362.6 410.0,360.0 411.2,357.2 412.4,354.3 413.6,351.3 414.8,348.2 416.0,345.0 417.2,341.8 418.5,338.4 419.7,335.1 420.9,331.7 422.1,328.3 423.3,325.0 424.5,321.7 425.7,318.5 426.9,315.3 428.2,312.3 429.4,309.5 430.6,306.8 431.8,304.4 433.0,302.1 434.2,300.1 435.4,298.4 436.7,296.9 437.9,295.8 439.1,295.0 440.3,294.5 441.5,294.3 442.7,294.5 443.9,295.0 445.1,295.8 446.4,297.0 447.6,298.4 448.8,300.2 450.0,302.2 451.2,304.5 452.4,307.0 453.6,309.7 454.8,312.7 456.1,315.7 457.3,319.0 458.5,322.3 459.7,325.7 460.9,329.2 462.1,332.7 463.3,336.2 464.6,339.8 465.8,343.3 467.0,346.7 468.2,350.1 469.4,353.4 470.6,356.6 471.8,359.7 473.0,362.6 474.3,365.5 475.5,368.2 476.7,370.7 477.9,373.2 479.1,375.5 480.3,377.6 481.5,379.6 482.7,381.5 484.0,383.2 485.2,384.8 486.4,386.2 487.6,387.6 488.8,388.8 490.0,389.9 491.2,390.9 492.5,391.8 493.7,392.6 494.9,393.4 496.1,394.0 497.3,394.6 498.5,395.1 499.7,395.6 500.9,396.0 502.2,396.3 503.4,396.7 504.6,396.9 505.8,397.2 507.0,397.4 508.2,397.6 509.4,397.7 510.6,397.9 511.9,398.0 513.1,398.1 514.3,398.2 515.5,398.3" fill="none" stroke="#c46cd8" stroke-width="1.1"/>
<polygon points="310.5,391.5 311.7,391.5 312.9,391.4 314.1,391.4 315.4,391.3 316.6,391.2 317.8,391.2 319.0,391.1 320.2,391.0 321.4,390.9 322.6,390.8 323.8,390.7 325.1,390.6 326.3,390.5 327.5,390.3 328.7,390.2 329.9,390.0 331.1,389.8 332.3,389.6 333.5,389.4 334.8,389.2 336.0,388.9 337.2,388.7 338.4,388.4 339.6,388.1 340.8,387.8 342.0,387.5 343.3,387.1 344.5,386.7 345.7,386.3 346.9,385.9 348.1,385.4 349.3,384.9 350.5,384.4 351.7,383.9 353.0,383.3 354.2,382.8 355.4,382.2 356.6,381.5 357.8,380.8 359.0,380.2 360.2,379.4 361.4,378.7 362.7,377.9 363.9,377.1 365.1,376.3 366.3,375.5 367.5,374.6 368.7,373.8 369.9,372.9 371.2,372.0 372.4,371.1 373.6,370.1 374.8,369.2 376.0,368.2 377.2,367.3 378.4,366.3 379.6,365.4 380.9,364.4 382.1,363.5 383.3,362.6 384.5,361.6 385.7,360.7 386.9,359.9 388.1,359.0 389.3,358.2 390.6,357.4 391.8,356.6 393.0,355.9 394.2,355.2 395.4,354.6 396.6,354.0 397.8,353.4 399.1,353.0 400.3,352.5 401.5,352.1 402.7,351.8 403.9,351.6 405.1,351.4 406.3,351.3 407.5,351.2 408.8,351.2 410.0,351.3 411.2,351.4 412.4,351.6 413.6,351.9 414.8,352.2 416.0,352.6 417.2,353.1 418.5,353.6 419.7,354.2 420.9,354.8 422.1,355.5 423.3,356.3 424.5,357.1 425.7,357.9 426.9,358.8 428.2,359.7 429.4,360.6 430.6,361.6 431.8,362.6 433.0,363.7 434.2,364.7 435.4,365.8 436.7,366.9 437.9,367.9 439.1,369.0 440.3,370.1 441.5,371.2 442.7,372.3 443.9,373.4 445.1,374.5 446.4,375.6 447.6,376.6 448.8,377.7 450.0,378.7 451.2,379.7 452.4,380.7 453.6,381.6 454.8,382.5 456.1,383.4 457.3,384.3 458.5,385.1 459.7,386.0 460.9,386.7 462.1,387.5 463.3,388.2 464.6,388.9 465.8,389.6 467.0,390.2 468.2,390.8 469.4,391.3 470.6,391.9 471.8,392.4 473.0,392.9 474.3,393.3 475.5,393.7 476.7,394.1 477.9,394.5 479.1,394.9 480.3,395.2 481.5,395.5 482.7,395.8 484.0,396.1 485.2,396.3 486.4,396.5 487.6,396.7 488.8,396.9 490.0,397.1 491.2,397.3 492.5,397.4 493.7,397.6 494.9,397.7 496.1,397.8 497.3,397.9 498.5,398.0 499.7,398.1 500.9,398.2 502.2,398.3 503.4,398.4 504.6,398.4 505.8,398.5 507.0,398.5 508.2,398.6 509.4,398.6 510.6,398.7 511.9,398.7 513.1,398.7 514.3,398.8 515.5,398.8 515.5,399.2 514.3,399.2 513.1,399.2 511.9,399.2 510.6,399.2 509.4,399.2 508.2,399.2 507.0,399.2 505.8,399.2 504.6,399.2 503.4,399.2 502.2,399.2 500.9,399.2 499.7,399.2 498.5,399.2 497.3,399.2 496.1,399.2 494.9,399.2 493.7,399.2 492.5,399.2 491.2,399.2 490.0,399.1 488.8,399.1 487.6,399.1 486.4,399.1 485.2,399.1 484.0,399.1 482.7,399.1 481.5,399.0 480.3,399.0 479.1,399.0 477.9,399.0 476.7,399.0 475.5,398.9 474.3,398.9 473.0,398.9 471.8,398.8 470.6,398.8 469.4,398.7 468.2,398.7 467.0,398.7 465.8,398.6 464.6,398.5 463.3,398.5 462.1,398.4 460.9,398.4 459.7,398.3 458.5,398.2 457.3,398.1 456.1,398.1 454.8,398.0 453.6,397.9 452.4,397.8 451.2,397.7 450.0,397.6 448.8,397.5 447.6,397.4 446.4,397.3 445.1,397.2 443.9,397.1 442.7,397.0 441.5,396.9 440.3,396.8 439.1,396.7 437.9,396.6 436.7,396.5 435.4,396.4 434.2,396.3 433.0,396.2 431.8,396.1 430.6,396.0 429.4,395.9 428.2,395.8 426.9,395.7 425.7,395.6 424.5,395.5 423.3,395.4 422.1,395.3 420.9,395.2 419.7,395.1 418.5,395.0 417.2,394.9 416.0,394.8 414.8,394.7 413.6,394.7 412.4,394.6 411.2,394.5 410.0,394.4 408.8,394.3 407.5,394.3 406.3,394.2 405.1,394.1 403.9,394.1 402.7,394.0 401.5,393.9 400.3,393.8 399.1,393.8 397.8,393.7 396.6,393.7 395.4,393.6 394.2,393.5 393.0,393.5 391.8,393.4 390.6,393.4 389.3,393.3 388.1,393.3 386.9,393.2 385.7,393.2 384.5,393.1 383.3,393.1 382.1,393.0 380.9,393.0 379.6,392.9 378.4,392.9 377.2,392.8 376.0,392.8 374.8,392.8 373.6,392.7 372.4,392.7 371.2,392.7 369.9,392.6 368.7,392.6 367.5,392.6 366.3,392.5 365.1,392.5 363.9,392.5 362.7,392.5 361.4,392.4 360.2,392.4 359.0,392.4 357.8,392.4 356.6,392.4 355.4,392.3 354.2,392.3 353.0,392.3 351.7,392.3 350.5,392.3 349.3,392.3 348.1,392.3 346.9,392.3 345.7,392.2 344.5,392.2 343.3,392.2 342.0,392.2 340.8,392.2 339.6,392.2 338.4,392.2 337.2,392.2 336.0,392.2 334.8,392.2 333.5,392.2 332.3,392.2 331.1,392.2 329.9,392.2 328.7,392.2 327.5,392.2 326.3,392.2 325.1,392.2 323.8,392.2 322.6,392.1 321.4,392.1 320.2,392.1 319.0,392.1 317.8,392.1 316.6,392.1 315.4,392.1 314.1,392.1 312.9,392.1 311.7,392.1 310.5,392.1" fill="rgba(170,240,252,0.72)"/>
<polyline points="310.5,391.5 311.7,391.5 312.9,391.4 314.1,391.4 315.4,391.3 316.6,391.2 317.8,391.2 319.0,391.1 320.2,391.0 321.4,390.9 322.6,390.8 323.8,390.7 325.1,390.6 326.3,390.5 327.5,390.3 328.7,390.2 329.9,390.0 331.1,389.8 332.3,389.6 333.5,389.4 334.8,389.2 336.0,388.9 337.2,388.7 338.4,388.4 339.6,388.1 340.8,387.8 342.0,387.5 343.3,387.1 344.5,386.7 345.7,386.3 346.9,385.9 348.1,385.4 349.3,384.9 350.5,384.4 351.7,383.9 353.0,383.3 354.2,382.8 355.4,382.2 356.6,381.5 357.8,380.8 359.0,380.2 360.2,379.4 361.4,378.7 362.7,377.9 363.9,377.1 365.1,376.3 366.3,375.5 367.5,374.6 368.7,373.8 369.9,372.9 371.2,372.0 372.4,371.1 373.6,370.1 374.8,369.2 376.0,368.2 377.2,367.3 378.4,366.3 379.6,365.4 380.9,364.4 382.1,363.5 383.3,362.6 384.5,361.6 385.7,360.7 386.9,359.9 388.1,359.0 389.3,358.2 390.6,357.4 391.8,356.6 393.0,355.9 394.2,355.2 395.4,354.6 396.6,354.0 397.8,353.4 399.1,353.0 400.3,352.5 401.5,352.1 402.7,351.8 403.9,351.6 405.1,351.4 406.3,351.3 407.5,351.2 408.8,351.2 410.0,351.3 411.2,351.4 412.4,351.6 413.6,351.9 414.8,352.2 416.0,352.6 417.2,353.1 418.5,353.6 419.7,354.2 420.9,354.8 422.1,355.5 423.3,356.3 424.5,357.1 425.7,357.9 426.9,358.8 428.2,359.7 429.4,360.6 430.6,361.6 431.8,362.6 433.0,363.7 434.2,364.7 435.4,365.8 436.7,366.9 437.9,367.9 439.1,369.0 440.3,370.1 441.5,371.2 442.7,372.3 443.9,373.4 445.1,374.5 446.4,375.6 447.6,376.6 448.8,377.7 450.0,378.7 451.2,379.7 452.4,380.7 453.6,381.6 454.8,382.5 456.1,383.4 457.3,384.3 458.5,385.1 459.7,386.0 460.9,386.7 462.1,387.5 463.3,388.2 464.6,388.9 465.8,389.6 467.0,390.2 468.2,390.8 469.4,391.3 470.6,391.9 471.8,392.4 473.0,392.9 474.3,393.3 475.5,393.7 476.7,394.1 477.9,394.5 479.1,394.9 480.3,395.2 481.5,395.5 482.7,395.8 484.0,396.1 485.2,396.3 486.4,396.5 487.6,396.7 488.8,396.9 490.0,397.1 491.2,397.3 492.5,397.4 493.7,397.6 494.9,397.7 496.1,397.8 497.3,397.9 498.5,398.0 499.7,398.1 500.9,398.2 502.2,398.3 503.4,398.4 504.6,398.4 505.8,398.5 507.0,398.5 508.2,398.6 509.4,398.6 510.6,398.7 511.9,398.7 513.1,398.7 514.3,398.8 515.5,398.8" fill="none" stroke="#5adde6" stroke-width="1.1"/>
<polygon points="310.5,391.7 311.7,391.7 312.9,391.6 314.1,391.6 315.4,391.5 316.6,391.5 317.8,391.4 319.0,391.3 320.2,391.2 321.4,391.1 322.6,391.0 323.8,390.9 325.1,390.8 326.3,390.7 327.5,390.5 328.7,390.4 329.9,390.2 331.1,390.0 332.3,389.8 333.5,389.5 334.8,389.3 336.0,389.0 337.2,388.7 338.4,388.4 339.6,388.1 340.8,387.7 342.0,387.3 343.3,386.9 344.5,386.5 345.7,386.0 346.9,385.6 348.1,385.1 349.3,384.5 350.5,384.0 351.7,383.4 353.0,382.8 354.2,382.1 355.4,381.5 356.6,380.8 357.8,380.1 359.0,379.4 360.2,378.7 361.4,378.0 362.7,377.3 363.9,376.5 365.1,375.8 366.3,375.0 367.5,374.3 368.7,373.6 369.9,372.8 371.2,372.1 372.4,371.4 373.6,370.8 374.8,370.1 376.0,369.5 377.2,368.9 378.4,368.4 379.6,367.9 380.9,367.4 382.1,367.0 383.3,366.7 384.5,366.4 385.7,366.1 386.9,365.9 388.1,365.8 389.3,365.7 390.6,365.7 391.8,365.8 393.0,365.9 394.2,366.1 395.4,366.3 396.6,366.6 397.8,367.0 399.1,367.4 400.3,367.9 401.5,368.4 402.7,369.0 403.9,369.6 405.1,370.2 406.3,370.9 407.5,371.6 408.8,372.4 410.0,373.2 411.2,374.0 412.4,374.8 413.6,375.6 414.8,376.5 416.0,377.3 417.2,378.2 418.5,379.1 419.7,379.9 420.9,380.8 422.1,381.6 423.3,382.4 424.5,383.2 425.7,384.1 426.9,384.8 428.2,385.6 429.4,386.3 430.6,387.1 431.8,387.8 433.0,388.4 434.2,389.1 435.4,389.7 436.7,390.3 437.9,390.9 439.1,391.4 440.3,392.0 441.5,392.4 442.7,392.9 443.9,393.4 445.1,393.8 446.4,394.2 447.6,394.6 448.8,394.9 450.0,395.2 451.2,395.5 452.4,395.8 453.6,396.1 454.8,396.4 456.1,396.6 457.3,396.8 458.5,397.0 459.7,397.2 460.9,397.4 462.1,397.5 463.3,397.7 464.6,397.8 465.8,397.9 467.0,398.0 468.2,398.1 469.4,398.2 470.6,398.3 471.8,398.4 473.0,398.5 474.3,398.5 475.5,398.6 476.7,398.6 477.9,398.7 479.1,398.7 480.3,398.8 481.5,398.8 482.7,398.8 484.0,398.9 485.2,398.9 486.4,398.9 487.6,398.9 488.8,399.0 490.0,399.0 491.2,399.0 492.5,399.0 493.7,399.0 494.9,399.0 496.1,399.0 497.3,399.0 498.5,399.1 499.7,399.1 500.9,399.1 502.2,399.1 503.4,399.1 504.6,399.1 505.8,399.1 507.0,399.1 508.2,399.1 509.4,399.1 510.6,399.1 511.9,399.1 513.1,399.1 514.3,399.1 515.5,399.1 515.5,399.2 514.3,399.2 513.1,399.2 511.9,399.2 510.6,399.2 509.4,399.2 508.2,399.2 507.0,399.2 505.8,399.2 504.6,399.2 503.4,399.2 502.2,399.2 500.9,399.2 499.7,399.2 498.5,399.2 497.3,399.2 496.1,399.2 494.9,399.2 493.7,399.2 492.5,399.2 491.2,399.2 490.0,399.1 488.8,399.1 487.6,399.1 486.4,399.1 485.2,399.1 484.0,399.1 482.7,399.1 481.5,399.0 480.3,399.0 479.1,399.0 477.9,399.0 476.7,399.0 475.5,398.9 474.3,398.9 473.0,398.9 471.8,398.8 470.6,398.8 469.4,398.7 468.2,398.7 467.0,398.7 465.8,398.6 464.6,398.5 463.3,398.5 462.1,398.4 460.9,398.4 459.7,398.3 458.5,398.2 457.3,398.1 456.1,398.1 454.8,398.0 453.6,397.9 452.4,397.8 451.2,397.7 450.0,397.6 448.8,397.5 447.6,397.4 446.4,397.3 445.1,397.2 443.9,397.1 442.7,397.0 441.5,396.9 440.3,396.8 439.1,396.7 437.9,396.6 436.7,396.5 435.4,396.4 434.2,396.3 433.0,396.2 431.8,396.1 430.6,396.0 429.4,395.9 428.2,395.8 426.9,395.7 425.7,395.6 424.5,395.5 423.3,395.4 422.1,395.3 420.9,395.2 419.7,395.1 418.5,395.0 417.2,394.9 416.0,394.8 414.8,394.7 413.6,394.7 412.4,394.6 411.2,394.5 410.0,394.4 408.8,394.3 407.5,394.3 406.3,394.2 405.1,394.1 403.9,394.1 402.7,394.0 401.5,393.9 400.3,393.8 399.1,393.8 397.8,393.7 396.6,393.7 395.4,393.6 394.2,393.5 393.0,393.5 391.8,393.4 390.6,393.4 389.3,393.3 388.1,393.3 386.9,393.2 385.7,393.2 384.5,393.1 383.3,393.1 382.1,393.0 380.9,393.0 379.6,392.9 378.4,392.9 377.2,392.8 376.0,392.8 374.8,392.8 373.6,392.7 372.4,392.7 371.2,392.7 369.9,392.6 368.7,392.6 367.5,392.6 366.3,392.5 365.1,392.5 363.9,392.5 362.7,392.5 361.4,392.4 360.2,392.4 359.0,392.4 357.8,392.4 356.6,392.4 355.4,392.3 354.2,392.3 353.0,392.3 351.7,392.3 350.5,392.3 349.3,392.3 348.1,392.3 346.9,392.3 345.7,392.2 344.5,392.2 343.3,392.2 342.0,392.2 340.8,392.2 339.6,392.2 338.4,392.2 337.2,392.2 336.0,392.2 334.8,392.2 333.5,392.2 332.3,392.2 331.1,392.2 329.9,392.2 328.7,392.2 327.5,392.2 326.3,392.2 325.1,392.2 323.8,392.2 322.6,392.1 321.4,392.1 320.2,392.1 319.0,392.1 317.8,392.1 316.6,392.1 315.4,392.1 314.1,392.1 312.9,392.1 311.7,392.1 310.5,392.1" fill="rgba(246,246,196,0.84)"/>
<polyline points="310.5,391.7 311.7,391.7 312.9,391.6 314.1,391.6 315.4,391.5 316.6,391.5 317.8,391.4 319.0,391.3 320.2,391.2 321.4,391.1 322.6,391.0 323.8,390.9 325.1,390.8 326.3,390.7 327.5,390.5 328.7,390.4 329.9,390.2 331.1,390.0 332.3,389.8 333.5,389.5 334.8,389.3 336.0,389.0 337.2,388.7 338.4,388.4 339.6,388.1 340.8,387.7 342.0,387.3 343.3,386.9 344.5,386.5 345.7,386.0 346.9,385.6 348.1,385.1 349.3,384.5 350.5,384.0 351.7,383.4 353.0,382.8 354.2,382.1 355.4,381.5 356.6,380.8 357.8,380.1 359.0,379.4 360.2,378.7 361.4,378.0 362.7,377.3 363.9,376.5 365.1,375.8 366.3,375.0 367.5,374.3 368.7,373.6 369.9,372.8 371.2,372.1 372.4,371.4 373.6,370.8 374.8,370.1 376.0,369.5 377.2,368.9 378.4,368.4 379.6,367.9 380.9,367.4 382.1,367.0 383.3,366.7 384.5,366.4 385.7,366.1 386.9,365.9 388.1,365.8 389.3,365.7 390.6,365.7 391.8,365.8 393.0,365.9 394.2,366.1 395.4,366.3 396.6,366.6 397.8,367.0 399.1,367.4 400.3,367.9 401.5,368.4 402.7,369.0 403.9,369.6 405.1,370.2 406.3,370.9 407.5,371.6 408.8,372.4 410.0,373.2 411.2,374.0 412.4,374.8 413.6,375.6 414.8,376.5 416.0,377.3 417.2,378.2 418.5,379.1 419.7,379.9 420.9,380.8 422.1,381.6 423.3,382.4 424.5,383.2 425.7,384.1 426.9,384.8 428.2,385.6 429.4,386.3 430.6,387.1 431.8,387.8 433.0,388.4 434.2,389.1 435.4,389.7 436.7,390.3 437.9,390.9 439.1,391.4 440.3,392.0 441.5,392.4 442.7,392.9 443.9,393.4 445.1,393.8 446.4,394.2 447.6,394.6 448.8,394.9 450.0,395.2 451.2,395.5 452.4,395.8 453.6,396.1 454.8,396.4 456.1,396.6 457.3,396.8 458.5,397.0 459.7,397.2 460.9,397.4 462.1,397.5 463.3,397.7 464.6,397.8 465.8,397.9 467.0,398.0 468.2,398.1 469.4,398.2 470.6,398.3 471.8,398.4 473.0,398.5 474.3,398.5 475.5,398.6 476.7,398.6 477.9,398.7 479.1,398.7 480.3,398.8 481.5,398.8 482.7,398.8 484.0,398.9 485.2,398.9 486.4,398.9 487.6,398.9 488.8,399.0 490.0,399.0 491.2,399.0 492.5,399.0 493.7,399.0 494.9,399.0 496.1,399.0 497.3,399.0 498.5,399.1 499.7,399.1 500.9,399.1 502.2,399.1 503.4,399.1 504.6,399.1 505.8,399.1 507.0,399.1 508.2,399.1 509.4,399.1 510.6,399.1 511.9,399.1 513.1,399.1 514.3,399.1 515.5,399.1" fill="none" stroke="#e2dc8c" stroke-width="1.1"/>
<polyline points="310.5,392.1 311.7,392.1 312.9,392.1 314.1,392.1 315.4,392.1 316.6,392.1 317.8,392.1 319.0,392.1 320.2,392.1 321.4,392.1 322.6,392.1 323.8,392.2 325.1,392.2 326.3,392.2 327.5,392.2 328.7,392.2 329.9,392.2 331.1,392.2 332.3,392.2 333.5,392.2 334.8,392.2 336.0,392.2 337.2,392.2 338.4,392.2 339.6,392.2 340.8,392.2 342.0,392.2 343.3,392.2 344.5,392.2 345.7,392.2 346.9,392.3 348.1,392.3 349.3,392.3 350.5,392.3 351.7,392.3 353.0,392.3 354.2,392.3 355.4,392.3 356.6,392.4 357.8,392.4 359.0,392.4 360.2,392.4 361.4,392.4 362.7,392.5 363.9,392.5 365.1,392.5 366.3,392.5 367.5,392.6 368.7,392.6 369.9,392.6 371.2,392.7 372.4,392.7 373.6,392.7 374.8,392.8 376.0,392.8 377.2,392.8 378.4,392.9 379.6,392.9 380.9,393.0 382.1,393.0 383.3,393.1 384.5,393.1 385.7,393.2 386.9,393.2 388.1,393.3 389.3,393.3 390.6,393.4 391.8,393.4 393.0,393.5 394.2,393.5 395.4,393.6 396.6,393.7 397.8,393.7 399.1,393.8 400.3,393.8 401.5,393.9 402.7,394.0 403.9,394.1 405.1,394.1 406.3,394.2 407.5,394.3 408.8,394.3 410.0,394.4 411.2,394.5 412.4,394.6 413.6,394.7 414.8,394.7 416.0,394.8 417.2,394.9 418.5,395.0 419.7,395.1 420.9,395.2 422.1,395.3 423.3,395.4 424.5,395.5 425.7,395.6 426.9,395.7 428.2,395.8 429.4,395.9 430.6,396.0 431.8,396.1 433.0,396.2 434.2,396.3 435.4,396.4 436.7,396.5 437.9,396.6 439.1,396.7 440.3,396.8 441.5,396.9 442.7,397.0 443.9,397.1 445.1,397.2 446.4,397.3 447.6,397.4 448.8,397.5 450.0,397.6 451.2,397.7 452.4,397.8 453.6,397.9 454.8,398.0 456.1,398.1 457.3,398.1 458.5,398.2 459.7,398.3 460.9,398.4 462.1,398.4 463.3,398.5 464.6,398.5 465.8,398.6 467.0,398.7 468.2,398.7 469.4,398.7 470.6,398.8 471.8,398.8 473.0,398.9 474.3,398.9 475.5,398.9 476.7,399.0 477.9,399.0 479.1,399.0 480.3,399.0 481.5,399.0 482.7,399.1 484.0,399.1 485.2,399.1 486.4,399.1 487.6,399.1 488.8,399.1 490.0,399.1 491.2,399.2 492.5,399.2 493.7,399.2 494.9,399.2 496.1,399.2 497.3,399.2 498.5,399.2 499.7,399.2 500.9,399.2 502.2,399.2 503.4,399.2 504.6,399.2 505.8,399.2 507.0,399.2 508.2,399.2 509.4,399.2 510.6,399.2 511.9,399.2 513.1,399.2 514.3,399.2 515.5,399.2" fill="none" stroke="#88e39a" stroke-width="1.4"/>
<polyline points="310.5,390.8 311.7,390.8 312.9,390.7 314.1,390.5 315.4,390.4 316.6,390.3 317.8,390.2 319.0,390.0 320.2,389.8 321.4,389.6 322.6,389.4 323.8,389.2 325.1,388.9 326.3,388.7 327.5,388.4 328.7,388.0 329.9,387.7 331.1,387.3 332.3,386.9 333.5,386.4 334.8,386.0 336.0,385.4 337.2,384.9 338.4,384.3 339.6,383.6 340.8,382.9 342.0,382.2 343.3,381.4 344.5,380.6 345.7,379.7 346.9,378.8 348.1,377.8 349.3,376.7 350.5,375.6 351.7,374.5 353.0,373.3 354.2,372.1 355.4,370.8 356.6,369.4 357.8,368.0 359.0,366.6 360.2,365.1 361.4,363.6 362.7,362.0 363.9,360.4 365.1,358.8 366.3,357.2 367.5,355.5 368.7,353.8 369.9,352.0 371.2,350.3 372.4,348.5 373.6,346.8 374.8,345.0 376.0,343.2 377.2,341.5 378.4,339.7 379.6,338.0 380.9,336.2 382.1,334.5 383.3,332.8 384.5,331.1 385.7,329.5 386.9,327.8 388.1,326.2 389.3,324.5 390.6,322.9 391.8,321.3 393.0,319.7 394.2,318.1 395.4,316.5 396.6,314.9 397.8,313.3 399.1,311.7 400.3,310.0 401.5,308.4 402.7,306.7 403.9,304.9 405.1,303.1 406.3,301.3 407.5,299.5 408.8,297.6 410.0,295.6 411.2,293.6 412.4,291.6 413.6,289.5 414.8,287.4 416.0,285.3 417.2,283.2 418.5,281.1 419.7,279.0 420.9,276.9 422.1,274.9 423.3,272.9 424.5,271.1 425.7,269.3 426.9,267.6 428.2,266.1 429.4,264.7 430.6,263.6 431.8,262.6 433.0,261.8 434.2,261.3 435.4,261.1 436.7,261.1 437.9,261.4 439.1,262.0 440.3,262.9 441.5,264.1 442.7,265.7 443.9,267.5 445.1,269.6 446.4,272.0 447.6,274.7 448.8,277.7 450.0,280.8 451.2,284.2 452.4,287.9 453.6,291.6 454.8,295.6 456.1,299.6 457.3,303.8 458.5,308.0 459.7,312.3 460.9,316.6 462.1,320.9 463.3,325.1 464.6,329.4 465.8,333.5 467.0,337.6 468.2,341.6 469.4,345.4 470.6,349.2 471.8,352.8 473.0,356.2 474.3,359.5 475.5,362.7 476.7,365.6 477.9,368.4 479.1,371.1 480.3,373.5 481.5,375.8 482.7,378.0 484.0,379.9 485.2,381.8 486.4,383.5 487.6,385.0 488.8,386.4 490.0,387.7 491.2,388.9 492.5,389.9 493.7,390.9 494.9,391.8 496.1,392.5 497.3,393.2 498.5,393.8 499.7,394.4 500.9,394.9 502.2,395.3 503.4,395.7 504.6,396.0 505.8,396.3 507.0,396.6 508.2,396.8 509.4,397.0 510.6,397.2 511.9,397.4 513.1,397.5 514.3,397.6 515.5,397.7" fill="none" stroke="#b3222a" stroke-width="1.6"/>
<g fill="none" stroke="#707070" stroke-width="0.85"><circle cx="301.3" cy="394.0" r="2.7"/><circle cx="304.3" cy="389.7" r="2.7"/><circle cx="307.2" cy="388.4" r="2.7"/><circle cx="310.2" cy="391.3" r="2.7"/><circle cx="313.2" cy="390.7" r="2.7"/><circle cx="316.2" cy="390.1" r="2.7"/><circle cx="319.2" cy="390.0" r="2.7"/><circle cx="322.2" cy="388.6" r="2.7"/><circle cx="325.2" cy="387.4" r="2.7"/><circle cx="328.1" cy="388.0" r="2.7"/><circle cx="331.1" cy="386.3" r="2.7"/><circle cx="334.1" cy="384.6" r="2.7"/><circle cx="337.1" cy="385.4" r="2.7"/><circle cx="340.1" cy="383.3" r="2.7"/><circle cx="343.1" cy="381.9" r="2.7"/><circle cx="346.0" cy="378.4" r="2.7"/><circle cx="349.0" cy="376.3" r="2.7"/><circle cx="352.0" cy="373.2" r="2.7"/><circle cx="355.0" cy="370.3" r="2.7"/><circle cx="358.0" cy="368.0" r="2.7"/><circle cx="361.0" cy="363.4" r="2.7"/><circle cx="363.9" cy="360.7" r="2.7"/><circle cx="366.9" cy="356.6" r="2.7"/><circle cx="369.9" cy="354.1" r="2.7"/><circle cx="372.9" cy="346.4" r="2.7"/><circle cx="375.9" cy="344.3" r="2.7"/><circle cx="378.9" cy="339.0" r="2.7"/><circle cx="381.8" cy="334.8" r="2.7"/><circle cx="384.8" cy="329.2" r="2.7"/><circle cx="387.8" cy="326.1" r="2.7"/><circle cx="390.8" cy="323.4" r="2.7"/><circle cx="393.8" cy="318.6" r="2.7"/><circle cx="396.8" cy="314.8" r="2.7"/><circle cx="399.7" cy="310.5" r="2.7"/><circle cx="402.7" cy="307.8" r="2.7"/><circle cx="405.7" cy="302.2" r="2.7"/><circle cx="408.7" cy="295.4" r="2.7"/><circle cx="411.7" cy="292.1" r="2.7"/><circle cx="414.7" cy="285.7" r="2.7"/><circle cx="417.6" cy="279.3" r="2.7"/><circle cx="420.6" cy="276.8" r="2.7"/><circle cx="423.6" cy="273.8" r="2.7"/><circle cx="426.6" cy="268.1" r="2.7"/><circle cx="429.6" cy="263.4" r="2.7"/><circle cx="432.6" cy="261.2" r="2.7"/><circle cx="435.5" cy="262.2" r="2.7"/><circle cx="438.5" cy="261.9" r="2.7"/><circle cx="441.5" cy="264.2" r="2.7"/><circle cx="444.5" cy="268.4" r="2.7"/><circle cx="447.5" cy="274.6" r="2.7"/><circle cx="450.5" cy="283.0" r="2.7"/><circle cx="453.5" cy="291.6" r="2.7"/><circle cx="456.4" cy="301.1" r="2.7"/><circle cx="459.4" cy="310.2" r="2.7"/><circle cx="462.4" cy="322.3" r="2.7"/><circle cx="465.4" cy="331.5" r="2.7"/><circle cx="468.4" cy="343.2" r="2.7"/><circle cx="471.4" cy="350.1" r="2.7"/><circle cx="474.3" cy="359.6" r="2.7"/><circle cx="477.3" cy="367.1" r="2.7"/><circle cx="480.3" cy="372.2" r="2.7"/><circle cx="483.3" cy="380.6" r="2.7"/><circle cx="486.3" cy="384.8" r="2.7"/><circle cx="489.3" cy="386.4" r="2.7"/><circle cx="492.2" cy="390.5" r="2.7"/><circle cx="495.2" cy="392.4" r="2.7"/><circle cx="498.2" cy="391.1" r="2.7"/><circle cx="501.2" cy="395.2" r="2.7"/><circle cx="504.2" cy="395.9" r="2.7"/><circle cx="507.2" cy="396.7" r="2.7"/><circle cx="510.1" cy="396.1" r="2.7"/><circle cx="513.1" cy="397.2" r="2.7"/><circle cx="516.1" cy="397.6" r="2.7"/><circle cx="519.1" cy="400.2" r="2.7"/><circle cx="522.1" cy="399.4" r="2.7"/><circle cx="525.1" cy="399.5" r="2.7"/><circle cx="528.0" cy="402.3" r="2.7"/><circle cx="531.0" cy="399.7" r="2.7"/><circle cx="534.0" cy="400.5" r="2.7"/></g>
<rect x="297.7" y="231" width="238.7" height="181.8" fill="none" stroke="#161616" stroke-width="1.8"/>
<path d="M327.5 412.8v-3.2M327.5 231v3.2" stroke="#161616" stroke-width="1.4"/>
<text x="327.5" y="425" font-family="Liberation Serif" font-weight="bold" font-size="10.5" text-anchor="middle" fill="#161616">534</text>
<path d="M387.2 412.8v-3.2M387.2 231v3.2" stroke="#161616" stroke-width="1.4"/>
<text x="387.2" y="425" font-family="Liberation Serif" font-weight="bold" font-size="10.5" text-anchor="middle" fill="#161616">532</text>
<path d="M446.9 412.8v-3.2M446.9 231v3.2" stroke="#161616" stroke-width="1.4"/>
<text x="446.9" y="425" font-family="Liberation Serif" font-weight="bold" font-size="10.5" text-anchor="middle" fill="#161616">530</text>
<path d="M506.6 412.8v-3.2M506.6 231v3.2" stroke="#161616" stroke-width="1.4"/>
<text x="506.6" y="425" font-family="Liberation Serif" font-weight="bold" font-size="10.5" text-anchor="middle" fill="#161616">528</text>
<path d="M297.7 277.0h3.2M536.4 277.0h-3.2" stroke="#161616" stroke-width="1.4"/>
<path d="M297.7 324.0h3.2M536.4 324.0h-3.2" stroke="#161616" stroke-width="1.4"/>
<path d="M297.7 371.0h3.2M536.4 371.0h-3.2" stroke="#161616" stroke-width="1.4"/>
<text x="417.0" y="440.5" font-family="Liberation Serif" font-weight="bold" font-size="14.1" text-anchor="middle" fill="#161616">Binding energy (eV)</text>
<text transform="translate(290.2,321.9) rotate(-90)" font-family="Liberation Serif" font-weight="bold" font-size="14.1" text-anchor="middle" fill="#161616">Intensity (A.U.)</text>
<text x="301.9" y="248" font-family="Liberation Serif" font-weight="bold" font-size="14.5" fill="#161616">(d)</text>
<text x="531.4" y="248.2" font-family="Liberation Serif" font-weight="bold" font-size="14.5" text-anchor="end" fill="#161616">O 1s</text>
<text x="429.8" y="335.1" font-family="Liberation Serif" font-weight="bold" font-size="10.5" fill="#c13fd6">Hf-O</text><text x="429.8" y="348.6" font-family="Liberation Serif" font-weight="bold" font-size="10.5" fill="#c13fd6">52%</text>
<text x="378.2" y="377.3" font-family="Liberation Serif" font-weight="bold" font-size="10.5" fill="#9a9030">-OH</text><text x="378.2" y="390.3" font-family="Liberation Serif" font-weight="bold" font-size="10.5" fill="#9a9030">16%</text>
<text x="413.6" y="364.2" font-family="Liberation Serif" font-weight="bold" font-size="10.5" fill="#137f7f">V<tspan font-size="7.5" dx="0.4">o</tspan></text><text x="413.6" y="377.7" font-family="Liberation Serif" font-weight="bold" font-size="10.5" fill="#137f7f">32%</text>
</svg></body></html>
